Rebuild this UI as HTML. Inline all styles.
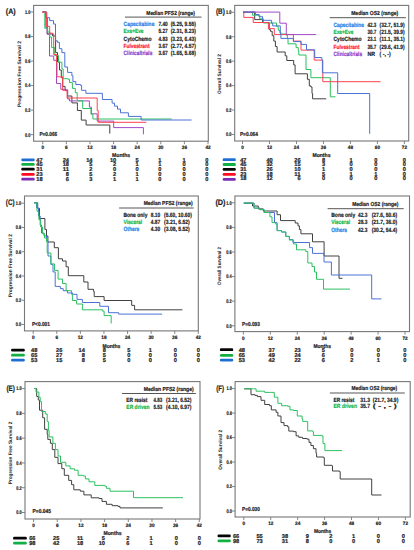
<!DOCTYPE html>
<html><head><meta charset="utf-8"><style>
html,body{margin:0;padding:0;background:#fff;width:414px;height:550px;overflow:hidden}
svg{display:block;font-family:"Liberation Sans",sans-serif;text-rendering:geometricPrecision}
</style></head><body>
<svg width="414" height="550" viewBox="0 0 414 550">
<rect width="414" height="550" fill="#fff"/>
<rect x="33.60" y="5.40" width="174.70" height="135.80" fill="none" stroke="#777777" stroke-width="1.1"/>
<line x1="30.60" y1="134.70" x2="33.60" y2="134.70" stroke="#777777" stroke-width="0.9"/>
<text x="30.30" y="136.50" font-size="5.2" font-weight="bold" fill="#1c1c1c" text-anchor="end" textLength="5.40" lengthAdjust="spacingAndGlyphs" stroke="#1c1c1c" stroke-width="0.2">0.0</text>
<line x1="30.60" y1="110.16" x2="33.60" y2="110.16" stroke="#777777" stroke-width="0.9"/>
<text x="30.30" y="111.96" font-size="5.2" font-weight="bold" fill="#1c1c1c" text-anchor="end" textLength="5.40" lengthAdjust="spacingAndGlyphs" stroke="#1c1c1c" stroke-width="0.2">0.2</text>
<line x1="30.60" y1="85.62" x2="33.60" y2="85.62" stroke="#777777" stroke-width="0.9"/>
<text x="30.30" y="87.42" font-size="5.2" font-weight="bold" fill="#1c1c1c" text-anchor="end" textLength="5.40" lengthAdjust="spacingAndGlyphs" stroke="#1c1c1c" stroke-width="0.2">0.4</text>
<line x1="30.60" y1="61.08" x2="33.60" y2="61.08" stroke="#777777" stroke-width="0.9"/>
<text x="30.30" y="62.88" font-size="5.2" font-weight="bold" fill="#1c1c1c" text-anchor="end" textLength="5.40" lengthAdjust="spacingAndGlyphs" stroke="#1c1c1c" stroke-width="0.2">0.6</text>
<line x1="30.60" y1="36.54" x2="33.60" y2="36.54" stroke="#777777" stroke-width="0.9"/>
<text x="30.30" y="38.34" font-size="5.2" font-weight="bold" fill="#1c1c1c" text-anchor="end" textLength="5.40" lengthAdjust="spacingAndGlyphs" stroke="#1c1c1c" stroke-width="0.2">0.8</text>
<line x1="30.60" y1="12.00" x2="33.60" y2="12.00" stroke="#777777" stroke-width="0.9"/>
<text x="30.30" y="13.80" font-size="5.2" font-weight="bold" fill="#1c1c1c" text-anchor="end" textLength="5.40" lengthAdjust="spacingAndGlyphs" stroke="#1c1c1c" stroke-width="0.2">1.0</text>
<line x1="42.75" y1="141.20" x2="42.75" y2="144.20" stroke="#777777" stroke-width="0.9"/>
<text x="42.75" y="149.20" font-size="5.0" font-weight="bold" fill="#1c1c1c" text-anchor="middle" textLength="2.60" lengthAdjust="spacingAndGlyphs" stroke="#1c1c1c" stroke-width="0.2">0</text>
<line x1="66.36" y1="141.20" x2="66.36" y2="144.20" stroke="#777777" stroke-width="0.9"/>
<text x="66.36" y="149.20" font-size="5.0" font-weight="bold" fill="#1c1c1c" text-anchor="middle" textLength="2.60" lengthAdjust="spacingAndGlyphs" stroke="#1c1c1c" stroke-width="0.2">6</text>
<line x1="89.96" y1="141.20" x2="89.96" y2="144.20" stroke="#777777" stroke-width="0.9"/>
<text x="89.96" y="149.20" font-size="5.0" font-weight="bold" fill="#1c1c1c" text-anchor="middle" textLength="5.20" lengthAdjust="spacingAndGlyphs" stroke="#1c1c1c" stroke-width="0.2">12</text>
<line x1="113.57" y1="141.20" x2="113.57" y2="144.20" stroke="#777777" stroke-width="0.9"/>
<text x="113.57" y="149.20" font-size="5.0" font-weight="bold" fill="#1c1c1c" text-anchor="middle" textLength="5.20" lengthAdjust="spacingAndGlyphs" stroke="#1c1c1c" stroke-width="0.2">18</text>
<line x1="137.18" y1="141.20" x2="137.18" y2="144.20" stroke="#777777" stroke-width="0.9"/>
<text x="137.18" y="149.20" font-size="5.0" font-weight="bold" fill="#1c1c1c" text-anchor="middle" textLength="5.20" lengthAdjust="spacingAndGlyphs" stroke="#1c1c1c" stroke-width="0.2">24</text>
<line x1="160.79" y1="141.20" x2="160.79" y2="144.20" stroke="#777777" stroke-width="0.9"/>
<text x="160.79" y="149.20" font-size="5.0" font-weight="bold" fill="#1c1c1c" text-anchor="middle" textLength="5.20" lengthAdjust="spacingAndGlyphs" stroke="#1c1c1c" stroke-width="0.2">30</text>
<line x1="184.39" y1="141.20" x2="184.39" y2="144.20" stroke="#777777" stroke-width="0.9"/>
<text x="184.39" y="149.20" font-size="5.0" font-weight="bold" fill="#1c1c1c" text-anchor="middle" textLength="5.20" lengthAdjust="spacingAndGlyphs" stroke="#1c1c1c" stroke-width="0.2">36</text>
<line x1="208.00" y1="141.20" x2="208.00" y2="144.20" stroke="#777777" stroke-width="0.9"/>
<text x="208.00" y="149.20" font-size="5.0" font-weight="bold" fill="#1c1c1c" text-anchor="middle" textLength="5.20" lengthAdjust="spacingAndGlyphs" stroke="#1c1c1c" stroke-width="0.2">42</text>
<text x="5.80" y="14.30" font-size="8.0" font-weight="bold" fill="#1c1c1c" text-anchor="start" textLength="9.90" lengthAdjust="spacingAndGlyphs" stroke="#1c1c1c" stroke-width="0.2">(A)</text>
<text x="0" y="0" font-size="5.0" font-weight="bold" fill="#1c1c1c" text-anchor="middle" textLength="66.00" lengthAdjust="spacingAndGlyphs" transform="translate(20.60,74.00) rotate(-90)">Progression Free Survival 2</text>
<text x="39.40" y="135.80" font-size="5.8" font-weight="bold" fill="#1c1c1c" text-anchor="start" textLength="17.80" lengthAdjust="spacingAndGlyphs" stroke="#1c1c1c" stroke-width="0.2">P=0.066</text>
<text x="146.30" y="14.90" font-size="5.8" font-weight="bold" fill="#1c1c1c" text-anchor="start" textLength="48.60" lengthAdjust="spacingAndGlyphs" stroke="#1c1c1c" stroke-width="0.2">Median PFS2 (range)</text>
<line x1="125.00" y1="17.10" x2="201.50" y2="17.10" stroke="#444" stroke-width="0.9"/>
<text x="123.60" y="26.10" font-size="6.2" font-weight="bold" fill="#1f7fe6" text-anchor="start" textLength="30.80" lengthAdjust="spacingAndGlyphs" stroke="#1f7fe6" stroke-width="0.2">Capecitabine</text>
<text x="158.40" y="26.10" font-size="6.2" font-weight="bold" fill="#1c1c1c" text-anchor="start" textLength="9.30" lengthAdjust="spacingAndGlyphs" stroke="#1c1c1c" stroke-width="0.2">7.40</text>
<text x="170.70" y="26.10" font-size="6.2" font-weight="bold" fill="#1c1c1c" text-anchor="start" textLength="25.10" lengthAdjust="spacingAndGlyphs" stroke="#1c1c1c" stroke-width="0.2">(5.25, 9.55)</text>
<text x="123.60" y="33.40" font-size="6.2" font-weight="bold" fill="#0fb848" text-anchor="start" textLength="19.90" lengthAdjust="spacingAndGlyphs" stroke="#0fb848" stroke-width="0.2">Exe+Eve</text>
<text x="158.40" y="33.40" font-size="6.2" font-weight="bold" fill="#1c1c1c" text-anchor="start" textLength="9.30" lengthAdjust="spacingAndGlyphs" stroke="#1c1c1c" stroke-width="0.2">5.27</text>
<text x="170.70" y="33.40" font-size="6.2" font-weight="bold" fill="#1c1c1c" text-anchor="start" textLength="25.10" lengthAdjust="spacingAndGlyphs" stroke="#1c1c1c" stroke-width="0.2">(2.31, 8.23)</text>
<text x="123.60" y="40.60" font-size="6.2" font-weight="bold" fill="#1c1c1c" text-anchor="start" textLength="28.00" lengthAdjust="spacingAndGlyphs" stroke="#1c1c1c" stroke-width="0.2">CytoChemo</text>
<text x="158.40" y="40.60" font-size="6.2" font-weight="bold" fill="#1c1c1c" text-anchor="start" textLength="9.30" lengthAdjust="spacingAndGlyphs" stroke="#1c1c1c" stroke-width="0.2">4.83</text>
<text x="170.70" y="40.60" font-size="6.2" font-weight="bold" fill="#1c1c1c" text-anchor="start" textLength="25.10" lengthAdjust="spacingAndGlyphs" stroke="#1c1c1c" stroke-width="0.2">(3.23, 6.43)</text>
<text x="123.60" y="47.90" font-size="6.2" font-weight="bold" fill="#ff1a2c" text-anchor="start" textLength="26.00" lengthAdjust="spacingAndGlyphs" stroke="#ff1a2c" stroke-width="0.2">Fulvestrant</text>
<text x="158.40" y="47.90" font-size="6.2" font-weight="bold" fill="#1c1c1c" text-anchor="start" textLength="9.30" lengthAdjust="spacingAndGlyphs" stroke="#1c1c1c" stroke-width="0.2">3.67</text>
<text x="170.70" y="47.90" font-size="6.2" font-weight="bold" fill="#1c1c1c" text-anchor="start" textLength="25.10" lengthAdjust="spacingAndGlyphs" stroke="#1c1c1c" stroke-width="0.2">(2.77, 4.57)</text>
<text x="123.60" y="55.10" font-size="6.2" font-weight="bold" fill="#8c3ccc" text-anchor="start" textLength="28.80" lengthAdjust="spacingAndGlyphs" stroke="#8c3ccc" stroke-width="0.2">Clinicaltrials</text>
<text x="158.40" y="55.10" font-size="6.2" font-weight="bold" fill="#1c1c1c" text-anchor="start" textLength="9.30" lengthAdjust="spacingAndGlyphs" stroke="#1c1c1c" stroke-width="0.2">3.67</text>
<text x="170.70" y="55.10" font-size="6.2" font-weight="bold" fill="#1c1c1c" text-anchor="start" textLength="25.10" lengthAdjust="spacingAndGlyphs" stroke="#1c1c1c" stroke-width="0.2">(1.65, 5.68)</text>
<polyline points="42.50,12.00 45.80,12.00 45.80,17.70 47.20,17.70 47.20,34.00 52.60,34.00 52.60,36.00 55.60,36.00 55.60,52.60 57.50,52.60 57.50,62.00 59.50,62.00 59.50,70.00 61.30,70.00 61.30,77.70 62.70,77.70 62.70,86.40 65.10,86.40 65.10,90.30 67.60,90.30 67.60,96.00 71.90,96.00 71.90,102.90 77.40,102.90 77.40,106.60 77.40,110.50 81.30,110.50 81.30,120.10 86.10,120.10 86.10,125.00 109.80,125.00 109.80,133.60" fill="none" stroke="#404040" stroke-width="1.0"/>
<polyline points="42.50,12.00 45.80,12.00 45.80,27.30 47.20,27.30 47.20,34.10 49.50,34.10 49.50,38.00 49.50,56.00 53.70,56.00 53.70,60.30 56.50,60.30 56.50,62.20 56.50,83.50 60.80,83.50 60.80,89.30 64.70,89.30 64.70,89.80 67.60,89.80 67.60,99.00 69.50,99.00 69.50,100.90 89.40,100.90 89.40,107.10 91.40,107.10 91.40,113.80 97.20,113.80 97.20,121.10 113.70,121.10 113.70,127.60 143.40,127.60 143.40,134.30" fill="none" stroke="#a04ac6" stroke-width="1.0"/>
<polyline points="42.50,12.00 44.80,12.00 44.80,28.30 47.70,28.30 47.70,32.00 49.70,32.00 49.70,37.00 51.60,37.00 51.60,47.60 54.70,47.60 54.70,55.50 58.50,55.50 58.50,62.20 61.90,62.20 61.90,69.00 63.20,69.00 63.20,78.70 68.00,78.70 68.00,79.20 69.50,79.20 69.50,82.60 72.40,82.60 72.40,88.40 75.30,88.40 75.30,92.70 77.20,92.70 77.20,100.80 82.70,100.80 82.70,108.50 91.00,108.50 91.00,114.30 92.90,114.30 92.90,119.00 171.80,119.00" fill="none" stroke="#2cc060" stroke-width="1.0"/>
<polyline points="42.50,12.00 46.80,12.00 46.80,17.70 49.70,17.70 49.70,20.60 53.50,20.60 53.50,24.00 55.50,24.00 55.50,40.80 57.40,40.80 57.40,42.30 59.40,42.30 59.40,48.70 61.90,48.70 61.90,52.60 64.80,52.60 64.80,67.00 67.60,67.00 67.60,72.40 71.90,72.40 71.90,75.80 72.90,75.80 72.90,81.60 75.80,81.60 75.80,84.50 80.60,84.50 80.60,85.50 81.60,85.50 81.60,90.30 85.90,90.30 85.90,93.30 102.40,93.30 102.40,99.50 112.10,99.50 112.10,103.10 114.50,103.10 114.50,106.10 117.50,106.10 117.50,109.10 120.50,109.10 120.50,112.80 128.40,112.80 128.40,116.40 141.10,116.40 141.10,120.00 191.60,120.00" fill="none" stroke="#4a72d6" stroke-width="1.0"/>
<polyline points="42.10,12.00 46.40,12.00 46.40,26.40 49.70,26.40 49.70,33.10 52.60,33.10 52.60,34.00 53.70,34.00 53.70,54.50 56.60,54.50 56.60,63.20 57.00,63.20 57.00,76.80 62.70,76.80 62.70,90.30 65.60,90.30 65.60,90.80 67.10,90.80 67.10,98.00 97.20,98.00 97.20,110.50 98.20,110.50 98.20,122.30 146.30,122.30" fill="none" stroke="#ff4050" stroke-width="1.0"/>
<rect x="21.30" y="158.40" width="13.40" height="2.8" rx="1.2" fill="#1f6fd2"/>
<rect x="21.30" y="162.90" width="13.40" height="2.8" rx="1.2" fill="#12b044"/>
<rect x="21.30" y="167.80" width="13.40" height="2.8" rx="1.2" fill="#050505"/>
<rect x="21.30" y="173.00" width="13.40" height="2.8" rx="1.2" fill="#ff0a1e"/>
<rect x="21.30" y="177.80" width="13.40" height="2.8" rx="1.2" fill="#7b2cb4"/>
<text x="42.60" y="161.50" font-size="5.6" font-weight="bold" fill="#1c1c1c" text-anchor="end" textLength="6.30" lengthAdjust="spacingAndGlyphs" stroke="#1c1c1c" stroke-width="0.2">47</text>
<text x="69.00" y="161.50" font-size="5.6" font-weight="bold" fill="#1c1c1c" text-anchor="end" textLength="6.30" lengthAdjust="spacingAndGlyphs" stroke="#1c1c1c" stroke-width="0.2">24</text>
<text x="92.50" y="161.50" font-size="5.6" font-weight="bold" fill="#1c1c1c" text-anchor="end" textLength="6.30" lengthAdjust="spacingAndGlyphs" stroke="#1c1c1c" stroke-width="0.2">14</text>
<text x="116.20" y="161.50" font-size="5.6" font-weight="bold" fill="#1c1c1c" text-anchor="end" textLength="6.30" lengthAdjust="spacingAndGlyphs" stroke="#1c1c1c" stroke-width="0.2">10</text>
<text x="138.60" y="161.50" font-size="5.6" font-weight="bold" fill="#1c1c1c" text-anchor="end" textLength="3.15" lengthAdjust="spacingAndGlyphs" stroke="#1c1c1c" stroke-width="0.2">5</text>
<text x="161.40" y="161.50" font-size="5.6" font-weight="bold" fill="#1c1c1c" text-anchor="end" textLength="3.15" lengthAdjust="spacingAndGlyphs" stroke="#1c1c1c" stroke-width="0.2">1</text>
<text x="185.70" y="161.50" font-size="5.6" font-weight="bold" fill="#1c1c1c" text-anchor="end" textLength="3.15" lengthAdjust="spacingAndGlyphs" stroke="#1c1c1c" stroke-width="0.2">1</text>
<text x="208.50" y="161.50" font-size="5.6" font-weight="bold" fill="#1c1c1c" text-anchor="end" textLength="3.15" lengthAdjust="spacingAndGlyphs" stroke="#1c1c1c" stroke-width="0.2">0</text>
<text x="42.60" y="166.20" font-size="5.6" font-weight="bold" fill="#1c1c1c" text-anchor="end" textLength="6.30" lengthAdjust="spacingAndGlyphs" stroke="#1c1c1c" stroke-width="0.2">45</text>
<text x="69.00" y="166.20" font-size="5.6" font-weight="bold" fill="#1c1c1c" text-anchor="end" textLength="6.30" lengthAdjust="spacingAndGlyphs" stroke="#1c1c1c" stroke-width="0.2">18</text>
<text x="92.50" y="166.20" font-size="5.6" font-weight="bold" fill="#1c1c1c" text-anchor="end" textLength="3.15" lengthAdjust="spacingAndGlyphs" stroke="#1c1c1c" stroke-width="0.2">5</text>
<text x="116.20" y="166.20" font-size="5.6" font-weight="bold" fill="#1c1c1c" text-anchor="end" textLength="3.15" lengthAdjust="spacingAndGlyphs" stroke="#1c1c1c" stroke-width="0.2">2</text>
<text x="138.60" y="166.20" font-size="5.6" font-weight="bold" fill="#1c1c1c" text-anchor="end" textLength="3.15" lengthAdjust="spacingAndGlyphs" stroke="#1c1c1c" stroke-width="0.2">1</text>
<text x="161.40" y="166.20" font-size="5.6" font-weight="bold" fill="#1c1c1c" text-anchor="end" textLength="3.15" lengthAdjust="spacingAndGlyphs" stroke="#1c1c1c" stroke-width="0.2">1</text>
<text x="185.70" y="166.20" font-size="5.6" font-weight="bold" fill="#1c1c1c" text-anchor="end" textLength="3.15" lengthAdjust="spacingAndGlyphs" stroke="#1c1c1c" stroke-width="0.2">0</text>
<text x="208.50" y="166.20" font-size="5.6" font-weight="bold" fill="#1c1c1c" text-anchor="end" textLength="3.15" lengthAdjust="spacingAndGlyphs" stroke="#1c1c1c" stroke-width="0.2">0</text>
<text x="42.60" y="171.00" font-size="5.6" font-weight="bold" fill="#1c1c1c" text-anchor="end" textLength="6.30" lengthAdjust="spacingAndGlyphs" stroke="#1c1c1c" stroke-width="0.2">31</text>
<text x="69.00" y="171.00" font-size="5.6" font-weight="bold" fill="#1c1c1c" text-anchor="end" textLength="6.30" lengthAdjust="spacingAndGlyphs" stroke="#1c1c1c" stroke-width="0.2">11</text>
<text x="92.50" y="171.00" font-size="5.6" font-weight="bold" fill="#1c1c1c" text-anchor="end" textLength="3.15" lengthAdjust="spacingAndGlyphs" stroke="#1c1c1c" stroke-width="0.2">2</text>
<text x="116.20" y="171.00" font-size="5.6" font-weight="bold" fill="#1c1c1c" text-anchor="end" textLength="3.15" lengthAdjust="spacingAndGlyphs" stroke="#1c1c1c" stroke-width="0.2">0</text>
<text x="138.60" y="171.00" font-size="5.6" font-weight="bold" fill="#1c1c1c" text-anchor="end" textLength="3.15" lengthAdjust="spacingAndGlyphs" stroke="#1c1c1c" stroke-width="0.2">0</text>
<text x="161.40" y="171.00" font-size="5.6" font-weight="bold" fill="#1c1c1c" text-anchor="end" textLength="3.15" lengthAdjust="spacingAndGlyphs" stroke="#1c1c1c" stroke-width="0.2">0</text>
<text x="185.70" y="171.00" font-size="5.6" font-weight="bold" fill="#1c1c1c" text-anchor="end" textLength="3.15" lengthAdjust="spacingAndGlyphs" stroke="#1c1c1c" stroke-width="0.2">0</text>
<text x="208.50" y="171.00" font-size="5.6" font-weight="bold" fill="#1c1c1c" text-anchor="end" textLength="3.15" lengthAdjust="spacingAndGlyphs" stroke="#1c1c1c" stroke-width="0.2">0</text>
<text x="42.60" y="176.30" font-size="5.6" font-weight="bold" fill="#1c1c1c" text-anchor="end" textLength="6.30" lengthAdjust="spacingAndGlyphs" stroke="#1c1c1c" stroke-width="0.2">23</text>
<text x="69.00" y="176.30" font-size="5.6" font-weight="bold" fill="#1c1c1c" text-anchor="end" textLength="3.15" lengthAdjust="spacingAndGlyphs" stroke="#1c1c1c" stroke-width="0.2">8</text>
<text x="92.50" y="176.30" font-size="5.6" font-weight="bold" fill="#1c1c1c" text-anchor="end" textLength="3.15" lengthAdjust="spacingAndGlyphs" stroke="#1c1c1c" stroke-width="0.2">5</text>
<text x="116.20" y="176.30" font-size="5.6" font-weight="bold" fill="#1c1c1c" text-anchor="end" textLength="3.15" lengthAdjust="spacingAndGlyphs" stroke="#1c1c1c" stroke-width="0.2">2</text>
<text x="138.60" y="176.30" font-size="5.6" font-weight="bold" fill="#1c1c1c" text-anchor="end" textLength="3.15" lengthAdjust="spacingAndGlyphs" stroke="#1c1c1c" stroke-width="0.2">1</text>
<text x="161.40" y="176.30" font-size="5.6" font-weight="bold" fill="#1c1c1c" text-anchor="end" textLength="3.15" lengthAdjust="spacingAndGlyphs" stroke="#1c1c1c" stroke-width="0.2">0</text>
<text x="185.70" y="176.30" font-size="5.6" font-weight="bold" fill="#1c1c1c" text-anchor="end" textLength="3.15" lengthAdjust="spacingAndGlyphs" stroke="#1c1c1c" stroke-width="0.2">0</text>
<text x="208.50" y="176.30" font-size="5.6" font-weight="bold" fill="#1c1c1c" text-anchor="end" textLength="3.15" lengthAdjust="spacingAndGlyphs" stroke="#1c1c1c" stroke-width="0.2">0</text>
<text x="42.60" y="180.70" font-size="5.6" font-weight="bold" fill="#1c1c1c" text-anchor="end" textLength="6.30" lengthAdjust="spacingAndGlyphs" stroke="#1c1c1c" stroke-width="0.2">18</text>
<text x="69.00" y="180.70" font-size="5.6" font-weight="bold" fill="#1c1c1c" text-anchor="end" textLength="3.15" lengthAdjust="spacingAndGlyphs" stroke="#1c1c1c" stroke-width="0.2">6</text>
<text x="92.50" y="180.70" font-size="5.6" font-weight="bold" fill="#1c1c1c" text-anchor="end" textLength="3.15" lengthAdjust="spacingAndGlyphs" stroke="#1c1c1c" stroke-width="0.2">3</text>
<text x="116.20" y="180.70" font-size="5.6" font-weight="bold" fill="#1c1c1c" text-anchor="end" textLength="3.15" lengthAdjust="spacingAndGlyphs" stroke="#1c1c1c" stroke-width="0.2">1</text>
<text x="138.60" y="180.70" font-size="5.6" font-weight="bold" fill="#1c1c1c" text-anchor="end" textLength="3.15" lengthAdjust="spacingAndGlyphs" stroke="#1c1c1c" stroke-width="0.2">1</text>
<text x="161.40" y="180.70" font-size="5.6" font-weight="bold" fill="#1c1c1c" text-anchor="end" textLength="3.15" lengthAdjust="spacingAndGlyphs" stroke="#1c1c1c" stroke-width="0.2">0</text>
<text x="185.70" y="180.70" font-size="5.6" font-weight="bold" fill="#1c1c1c" text-anchor="end" textLength="3.15" lengthAdjust="spacingAndGlyphs" stroke="#1c1c1c" stroke-width="0.2">0</text>
<text x="208.50" y="180.70" font-size="5.6" font-weight="bold" fill="#1c1c1c" text-anchor="end" textLength="3.15" lengthAdjust="spacingAndGlyphs" stroke="#1c1c1c" stroke-width="0.2">0</text>
<text x="112.10" y="157.20" font-size="5.6" font-weight="bold" fill="#1c1c1c" text-anchor="start" textLength="18.10" lengthAdjust="spacingAndGlyphs" stroke="#1c1c1c" stroke-width="0.2">Months</text>
<rect x="234.70" y="5.40" width="174.00" height="135.60" fill="none" stroke="#777777" stroke-width="1.1"/>
<line x1="231.70" y1="134.50" x2="234.70" y2="134.50" stroke="#777777" stroke-width="0.9"/>
<text x="231.40" y="136.30" font-size="5.2" font-weight="bold" fill="#1c1c1c" text-anchor="end" textLength="5.40" lengthAdjust="spacingAndGlyphs" stroke="#1c1c1c" stroke-width="0.2">0.0</text>
<line x1="231.70" y1="110.06" x2="234.70" y2="110.06" stroke="#777777" stroke-width="0.9"/>
<text x="231.40" y="111.86" font-size="5.2" font-weight="bold" fill="#1c1c1c" text-anchor="end" textLength="5.40" lengthAdjust="spacingAndGlyphs" stroke="#1c1c1c" stroke-width="0.2">0.2</text>
<line x1="231.70" y1="85.62" x2="234.70" y2="85.62" stroke="#777777" stroke-width="0.9"/>
<text x="231.40" y="87.42" font-size="5.2" font-weight="bold" fill="#1c1c1c" text-anchor="end" textLength="5.40" lengthAdjust="spacingAndGlyphs" stroke="#1c1c1c" stroke-width="0.2">0.4</text>
<line x1="231.70" y1="61.18" x2="234.70" y2="61.18" stroke="#777777" stroke-width="0.9"/>
<text x="231.40" y="62.98" font-size="5.2" font-weight="bold" fill="#1c1c1c" text-anchor="end" textLength="5.40" lengthAdjust="spacingAndGlyphs" stroke="#1c1c1c" stroke-width="0.2">0.6</text>
<line x1="231.70" y1="36.74" x2="234.70" y2="36.74" stroke="#777777" stroke-width="0.9"/>
<text x="231.40" y="38.54" font-size="5.2" font-weight="bold" fill="#1c1c1c" text-anchor="end" textLength="5.40" lengthAdjust="spacingAndGlyphs" stroke="#1c1c1c" stroke-width="0.2">0.8</text>
<line x1="231.70" y1="12.30" x2="234.70" y2="12.30" stroke="#777777" stroke-width="0.9"/>
<text x="231.40" y="14.10" font-size="5.2" font-weight="bold" fill="#1c1c1c" text-anchor="end" textLength="5.40" lengthAdjust="spacingAndGlyphs" stroke="#1c1c1c" stroke-width="0.2">1.0</text>
<line x1="242.50" y1="141.00" x2="242.50" y2="144.00" stroke="#777777" stroke-width="0.9"/>
<text x="242.50" y="149.00" font-size="5.0" font-weight="bold" fill="#1c1c1c" text-anchor="middle" textLength="2.60" lengthAdjust="spacingAndGlyphs" stroke="#1c1c1c" stroke-width="0.2">0</text>
<line x1="269.48" y1="141.00" x2="269.48" y2="144.00" stroke="#777777" stroke-width="0.9"/>
<text x="269.48" y="149.00" font-size="5.0" font-weight="bold" fill="#1c1c1c" text-anchor="middle" textLength="5.20" lengthAdjust="spacingAndGlyphs" stroke="#1c1c1c" stroke-width="0.2">12</text>
<line x1="296.47" y1="141.00" x2="296.47" y2="144.00" stroke="#777777" stroke-width="0.9"/>
<text x="296.47" y="149.00" font-size="5.0" font-weight="bold" fill="#1c1c1c" text-anchor="middle" textLength="5.20" lengthAdjust="spacingAndGlyphs" stroke="#1c1c1c" stroke-width="0.2">24</text>
<line x1="323.45" y1="141.00" x2="323.45" y2="144.00" stroke="#777777" stroke-width="0.9"/>
<text x="323.45" y="149.00" font-size="5.0" font-weight="bold" fill="#1c1c1c" text-anchor="middle" textLength="5.20" lengthAdjust="spacingAndGlyphs" stroke="#1c1c1c" stroke-width="0.2">36</text>
<line x1="350.43" y1="141.00" x2="350.43" y2="144.00" stroke="#777777" stroke-width="0.9"/>
<text x="350.43" y="149.00" font-size="5.0" font-weight="bold" fill="#1c1c1c" text-anchor="middle" textLength="5.20" lengthAdjust="spacingAndGlyphs" stroke="#1c1c1c" stroke-width="0.2">48</text>
<line x1="377.42" y1="141.00" x2="377.42" y2="144.00" stroke="#777777" stroke-width="0.9"/>
<text x="377.42" y="149.00" font-size="5.0" font-weight="bold" fill="#1c1c1c" text-anchor="middle" textLength="5.20" lengthAdjust="spacingAndGlyphs" stroke="#1c1c1c" stroke-width="0.2">60</text>
<line x1="404.40" y1="141.00" x2="404.40" y2="144.00" stroke="#777777" stroke-width="0.9"/>
<text x="404.40" y="149.00" font-size="5.0" font-weight="bold" fill="#1c1c1c" text-anchor="middle" textLength="5.20" lengthAdjust="spacingAndGlyphs" stroke="#1c1c1c" stroke-width="0.2">72</text>
<text x="216.00" y="14.20" font-size="8.0" font-weight="bold" fill="#1c1c1c" text-anchor="start" textLength="8.80" lengthAdjust="spacingAndGlyphs" stroke="#1c1c1c" stroke-width="0.2">(B)</text>
<text x="0" y="0" font-size="5.0" font-weight="bold" fill="#1c1c1c" text-anchor="middle" textLength="40.00" lengthAdjust="spacingAndGlyphs" transform="translate(220.60,74.00) rotate(-90)">Overall Survival 2</text>
<text x="239.90" y="136.00" font-size="5.8" font-weight="bold" fill="#1c1c1c" text-anchor="start" textLength="18.10" lengthAdjust="spacingAndGlyphs" stroke="#1c1c1c" stroke-width="0.2">P=0.064</text>
<text x="351.20" y="15.30" font-size="5.8" font-weight="bold" fill="#1c1c1c" text-anchor="start" textLength="47.00" lengthAdjust="spacingAndGlyphs" stroke="#1c1c1c" stroke-width="0.2">Median OS2 (range)</text>
<line x1="329.70" y1="17.70" x2="405.90" y2="17.70" stroke="#444" stroke-width="0.9"/>
<text x="333.50" y="26.80" font-size="6.2" font-weight="bold" fill="#1f7fe6" text-anchor="start" textLength="30.60" lengthAdjust="spacingAndGlyphs" stroke="#1f7fe6" stroke-width="0.2">Capecitabine</text>
<text x="367.50" y="26.80" font-size="6.2" font-weight="bold" fill="#1c1c1c" text-anchor="start" textLength="8.80" lengthAdjust="spacingAndGlyphs" stroke="#1c1c1c" stroke-width="0.2">42.3</text>
<text x="379.60" y="26.80" font-size="6.2" font-weight="bold" fill="#1c1c1c" text-anchor="start" textLength="25.10" lengthAdjust="spacingAndGlyphs" stroke="#1c1c1c" stroke-width="0.2">(32.7, 51.9)</text>
<text x="333.50" y="34.10" font-size="6.2" font-weight="bold" fill="#0fb848" text-anchor="start" textLength="19.80" lengthAdjust="spacingAndGlyphs" stroke="#0fb848" stroke-width="0.2">Exe+Eve</text>
<text x="367.50" y="34.10" font-size="6.2" font-weight="bold" fill="#1c1c1c" text-anchor="start" textLength="8.80" lengthAdjust="spacingAndGlyphs" stroke="#1c1c1c" stroke-width="0.2">30.7</text>
<text x="379.60" y="34.10" font-size="6.2" font-weight="bold" fill="#1c1c1c" text-anchor="start" textLength="25.10" lengthAdjust="spacingAndGlyphs" stroke="#1c1c1c" stroke-width="0.2">(21.5, 39.9)</text>
<text x="333.50" y="41.40" font-size="6.2" font-weight="bold" fill="#1c1c1c" text-anchor="start" textLength="28.00" lengthAdjust="spacingAndGlyphs" stroke="#1c1c1c" stroke-width="0.2">CytoChemo</text>
<text x="367.50" y="41.40" font-size="6.2" font-weight="bold" fill="#1c1c1c" text-anchor="start" textLength="8.80" lengthAdjust="spacingAndGlyphs" stroke="#1c1c1c" stroke-width="0.2">23.1</text>
<text x="379.60" y="41.40" font-size="6.2" font-weight="bold" fill="#1c1c1c" text-anchor="start" textLength="25.10" lengthAdjust="spacingAndGlyphs" stroke="#1c1c1c" stroke-width="0.2">(11.1, 35.1)</text>
<text x="333.50" y="48.60" font-size="6.2" font-weight="bold" fill="#ff1a2c" text-anchor="start" textLength="26.00" lengthAdjust="spacingAndGlyphs" stroke="#ff1a2c" stroke-width="0.2">Fulvestrant</text>
<text x="367.50" y="48.60" font-size="6.2" font-weight="bold" fill="#1c1c1c" text-anchor="start" textLength="8.80" lengthAdjust="spacingAndGlyphs" stroke="#1c1c1c" stroke-width="0.2">35.7</text>
<text x="379.60" y="48.60" font-size="6.2" font-weight="bold" fill="#1c1c1c" text-anchor="start" textLength="25.10" lengthAdjust="spacingAndGlyphs" stroke="#1c1c1c" stroke-width="0.2">(29.6, 41.9)</text>
<text x="333.50" y="55.80" font-size="6.2" font-weight="bold" fill="#8c3ccc" text-anchor="start" textLength="28.60" lengthAdjust="spacingAndGlyphs" stroke="#8c3ccc" stroke-width="0.2">Clinicaltrials</text>
<text x="367.50" y="55.80" font-size="6.2" font-weight="bold" fill="#1c1c1c" text-anchor="start" textLength="7.60" lengthAdjust="spacingAndGlyphs" stroke="#1c1c1c" stroke-width="0.2">NR</text>
<text x="379.60" y="55.80" font-size="6.2" font-weight="bold" fill="#1c1c1c" text-anchor="start" textLength="11.20" lengthAdjust="spacingAndGlyphs" stroke="#1c1c1c" stroke-width="0.2">( -, -)</text>
<polyline points="243.00,12.10 254.70,12.10 254.70,19.60 262.60,19.60 262.60,22.50 269.20,22.50 269.20,29.70 270.50,29.70 270.50,31.30 272.20,31.30 272.20,35.70 273.80,35.70 273.80,41.10 275.40,41.10 275.40,46.50 277.10,46.50 277.10,52.00 285.20,52.00 285.20,55.80 286.80,55.80 286.80,60.50 293.70,60.50 293.70,64.90 295.10,64.90 295.10,73.80 307.40,73.80 307.40,79.30 309.30,79.30 309.30,85.90 310.90,85.90 310.90,87.00 312.00,87.00 312.00,93.50 312.60,93.50 312.60,98.80 326.20,98.80" fill="none" stroke="#404040" stroke-width="1.0"/>
<polyline points="243.00,12.20 248.10,12.20 248.10,12.50 252.50,12.50 252.50,15.20 259.70,15.20 259.70,18.90 263.40,18.90 263.40,23.00 276.50,23.00 276.50,26.40 278.20,26.40 278.20,30.20 279.80,30.20 279.80,32.40 280.90,32.40 280.90,34.00 286.30,34.00 286.30,35.10 287.40,35.10 287.40,38.40 288.00,38.40 288.00,43.80 296.10,43.80 296.10,47.60 298.30,47.60 298.30,50.90 298.80,50.90 298.80,55.00 306.00,55.00 306.00,69.50 310.90,69.50 310.90,77.70 330.30,77.70 330.30,96.80 335.50,96.80" fill="none" stroke="#2cc060" stroke-width="1.0"/>
<polyline points="243.00,12.10 243.80,12.10 243.80,17.40 253.20,17.40 253.20,22.50 268.40,22.50 268.40,28.60 274.30,28.60 274.30,34.60 293.40,34.60 293.40,41.10 301.00,41.10 301.00,50.10 314.20,50.10 314.20,60.10 322.80,60.10 322.80,81.70 380.60,81.70" fill="none" stroke="#ff4050" stroke-width="1.0"/>
<polyline points="243.00,12.10 255.40,12.10 255.40,14.50 259.00,14.50 259.00,16.70 262.60,16.70 262.60,20.30 271.60,20.30 271.60,23.20 272.70,23.20 272.70,25.90 280.30,25.90 280.30,34.60 280.90,34.60 280.90,38.40 293.40,38.40 293.40,41.60 301.00,41.60 301.00,44.40 306.50,44.40 306.50,49.80 314.70,49.80 314.70,57.50 321.80,57.50 321.80,59.70 322.40,59.70 322.40,72.80 337.70,72.80 337.70,93.50 369.70,93.50 369.70,133.80" fill="none" stroke="#4a72d6" stroke-width="1.0"/>
<polyline points="243.10,12.10 279.80,12.10 279.80,23.20 286.30,23.20 286.30,34.60 316.20,34.60" fill="none" stroke="#a04ac6" stroke-width="1.0"/>
<rect x="222.70" y="158.30" width="13.10" height="2.8" rx="1.2" fill="#1f6fd2"/>
<rect x="222.70" y="163.10" width="13.10" height="2.8" rx="1.2" fill="#12b044"/>
<rect x="222.70" y="167.90" width="13.10" height="2.8" rx="1.2" fill="#050505"/>
<rect x="222.70" y="173.00" width="13.10" height="2.8" rx="1.2" fill="#ff0a1e"/>
<rect x="222.70" y="178.00" width="13.10" height="2.8" rx="1.2" fill="#7b2cb4"/>
<text x="246.50" y="161.80" font-size="5.6" font-weight="bold" fill="#1c1c1c" text-anchor="end" textLength="6.30" lengthAdjust="spacingAndGlyphs" stroke="#1c1c1c" stroke-width="0.2">47</text>
<text x="272.70" y="161.80" font-size="5.6" font-weight="bold" fill="#1c1c1c" text-anchor="end" textLength="6.30" lengthAdjust="spacingAndGlyphs" stroke="#1c1c1c" stroke-width="0.2">40</text>
<text x="300.60" y="161.80" font-size="5.6" font-weight="bold" fill="#1c1c1c" text-anchor="end" textLength="6.30" lengthAdjust="spacingAndGlyphs" stroke="#1c1c1c" stroke-width="0.2">26</text>
<text x="325.10" y="161.80" font-size="5.6" font-weight="bold" fill="#1c1c1c" text-anchor="end" textLength="3.15" lengthAdjust="spacingAndGlyphs" stroke="#1c1c1c" stroke-width="0.2">8</text>
<text x="352.70" y="161.80" font-size="5.6" font-weight="bold" fill="#1c1c1c" text-anchor="end" textLength="3.15" lengthAdjust="spacingAndGlyphs" stroke="#1c1c1c" stroke-width="0.2">1</text>
<text x="377.50" y="161.80" font-size="5.6" font-weight="bold" fill="#1c1c1c" text-anchor="end" textLength="3.15" lengthAdjust="spacingAndGlyphs" stroke="#1c1c1c" stroke-width="0.2">0</text>
<text x="405.90" y="161.80" font-size="5.6" font-weight="bold" fill="#1c1c1c" text-anchor="end" textLength="3.15" lengthAdjust="spacingAndGlyphs" stroke="#1c1c1c" stroke-width="0.2">0</text>
<text x="246.50" y="166.40" font-size="5.6" font-weight="bold" fill="#1c1c1c" text-anchor="end" textLength="6.30" lengthAdjust="spacingAndGlyphs" stroke="#1c1c1c" stroke-width="0.2">45</text>
<text x="272.70" y="166.40" font-size="5.6" font-weight="bold" fill="#1c1c1c" text-anchor="end" textLength="6.30" lengthAdjust="spacingAndGlyphs" stroke="#1c1c1c" stroke-width="0.2">32</text>
<text x="300.60" y="166.40" font-size="5.6" font-weight="bold" fill="#1c1c1c" text-anchor="end" textLength="6.30" lengthAdjust="spacingAndGlyphs" stroke="#1c1c1c" stroke-width="0.2">15</text>
<text x="325.10" y="166.40" font-size="5.6" font-weight="bold" fill="#1c1c1c" text-anchor="end" textLength="3.15" lengthAdjust="spacingAndGlyphs" stroke="#1c1c1c" stroke-width="0.2">3</text>
<text x="352.70" y="166.40" font-size="5.6" font-weight="bold" fill="#1c1c1c" text-anchor="end" textLength="3.15" lengthAdjust="spacingAndGlyphs" stroke="#1c1c1c" stroke-width="0.2">0</text>
<text x="377.50" y="166.40" font-size="5.6" font-weight="bold" fill="#1c1c1c" text-anchor="end" textLength="3.15" lengthAdjust="spacingAndGlyphs" stroke="#1c1c1c" stroke-width="0.2">0</text>
<text x="405.90" y="166.40" font-size="5.6" font-weight="bold" fill="#1c1c1c" text-anchor="end" textLength="3.15" lengthAdjust="spacingAndGlyphs" stroke="#1c1c1c" stroke-width="0.2">0</text>
<text x="246.50" y="171.20" font-size="5.6" font-weight="bold" fill="#1c1c1c" text-anchor="end" textLength="6.30" lengthAdjust="spacingAndGlyphs" stroke="#1c1c1c" stroke-width="0.2">31</text>
<text x="272.70" y="171.20" font-size="5.6" font-weight="bold" fill="#1c1c1c" text-anchor="end" textLength="6.30" lengthAdjust="spacingAndGlyphs" stroke="#1c1c1c" stroke-width="0.2">26</text>
<text x="300.60" y="171.20" font-size="5.6" font-weight="bold" fill="#1c1c1c" text-anchor="end" textLength="6.30" lengthAdjust="spacingAndGlyphs" stroke="#1c1c1c" stroke-width="0.2">10</text>
<text x="325.10" y="171.20" font-size="5.6" font-weight="bold" fill="#1c1c1c" text-anchor="end" textLength="3.15" lengthAdjust="spacingAndGlyphs" stroke="#1c1c1c" stroke-width="0.2">1</text>
<text x="352.70" y="171.20" font-size="5.6" font-weight="bold" fill="#1c1c1c" text-anchor="end" textLength="3.15" lengthAdjust="spacingAndGlyphs" stroke="#1c1c1c" stroke-width="0.2">0</text>
<text x="377.50" y="171.20" font-size="5.6" font-weight="bold" fill="#1c1c1c" text-anchor="end" textLength="3.15" lengthAdjust="spacingAndGlyphs" stroke="#1c1c1c" stroke-width="0.2">0</text>
<text x="405.90" y="171.20" font-size="5.6" font-weight="bold" fill="#1c1c1c" text-anchor="end" textLength="3.15" lengthAdjust="spacingAndGlyphs" stroke="#1c1c1c" stroke-width="0.2">0</text>
<text x="246.50" y="176.10" font-size="5.6" font-weight="bold" fill="#1c1c1c" text-anchor="end" textLength="6.30" lengthAdjust="spacingAndGlyphs" stroke="#1c1c1c" stroke-width="0.2">23</text>
<text x="272.70" y="176.10" font-size="5.6" font-weight="bold" fill="#1c1c1c" text-anchor="end" textLength="6.30" lengthAdjust="spacingAndGlyphs" stroke="#1c1c1c" stroke-width="0.2">18</text>
<text x="300.60" y="176.10" font-size="5.6" font-weight="bold" fill="#1c1c1c" text-anchor="end" textLength="6.30" lengthAdjust="spacingAndGlyphs" stroke="#1c1c1c" stroke-width="0.2">11</text>
<text x="325.10" y="176.10" font-size="5.6" font-weight="bold" fill="#1c1c1c" text-anchor="end" textLength="3.15" lengthAdjust="spacingAndGlyphs" stroke="#1c1c1c" stroke-width="0.2">5</text>
<text x="352.70" y="176.10" font-size="5.6" font-weight="bold" fill="#1c1c1c" text-anchor="end" textLength="3.15" lengthAdjust="spacingAndGlyphs" stroke="#1c1c1c" stroke-width="0.2">1</text>
<text x="377.50" y="176.10" font-size="5.6" font-weight="bold" fill="#1c1c1c" text-anchor="end" textLength="3.15" lengthAdjust="spacingAndGlyphs" stroke="#1c1c1c" stroke-width="0.2">1</text>
<text x="405.90" y="176.10" font-size="5.6" font-weight="bold" fill="#1c1c1c" text-anchor="end" textLength="3.15" lengthAdjust="spacingAndGlyphs" stroke="#1c1c1c" stroke-width="0.2">0</text>
<text x="246.50" y="180.40" font-size="5.6" font-weight="bold" fill="#1c1c1c" text-anchor="end" textLength="6.30" lengthAdjust="spacingAndGlyphs" stroke="#1c1c1c" stroke-width="0.2">18</text>
<text x="272.70" y="180.40" font-size="5.6" font-weight="bold" fill="#1c1c1c" text-anchor="end" textLength="6.30" lengthAdjust="spacingAndGlyphs" stroke="#1c1c1c" stroke-width="0.2">12</text>
<text x="300.60" y="180.40" font-size="5.6" font-weight="bold" fill="#1c1c1c" text-anchor="end" textLength="3.15" lengthAdjust="spacingAndGlyphs" stroke="#1c1c1c" stroke-width="0.2">6</text>
<text x="325.10" y="180.40" font-size="5.6" font-weight="bold" fill="#1c1c1c" text-anchor="end" textLength="3.15" lengthAdjust="spacingAndGlyphs" stroke="#1c1c1c" stroke-width="0.2">0</text>
<text x="352.70" y="180.40" font-size="5.6" font-weight="bold" fill="#1c1c1c" text-anchor="end" textLength="3.15" lengthAdjust="spacingAndGlyphs" stroke="#1c1c1c" stroke-width="0.2">0</text>
<text x="377.50" y="180.40" font-size="5.6" font-weight="bold" fill="#1c1c1c" text-anchor="end" textLength="3.15" lengthAdjust="spacingAndGlyphs" stroke="#1c1c1c" stroke-width="0.2">0</text>
<text x="405.90" y="180.40" font-size="5.6" font-weight="bold" fill="#1c1c1c" text-anchor="end" textLength="3.15" lengthAdjust="spacingAndGlyphs" stroke="#1c1c1c" stroke-width="0.2">0</text>
<text x="312.40" y="157.30" font-size="5.6" font-weight="bold" fill="#1c1c1c" text-anchor="start" textLength="18.10" lengthAdjust="spacingAndGlyphs" stroke="#1c1c1c" stroke-width="0.2">Months</text>
<rect x="24.50" y="196.00" width="173.80" height="134.90" fill="none" stroke="#777777" stroke-width="1.1"/>
<line x1="21.50" y1="324.50" x2="24.50" y2="324.50" stroke="#777777" stroke-width="0.9"/>
<text x="21.20" y="326.30" font-size="5.2" font-weight="bold" fill="#1c1c1c" text-anchor="end" textLength="5.40" lengthAdjust="spacingAndGlyphs" stroke="#1c1c1c" stroke-width="0.2">0.0</text>
<line x1="21.50" y1="300.24" x2="24.50" y2="300.24" stroke="#777777" stroke-width="0.9"/>
<text x="21.20" y="302.04" font-size="5.2" font-weight="bold" fill="#1c1c1c" text-anchor="end" textLength="5.40" lengthAdjust="spacingAndGlyphs" stroke="#1c1c1c" stroke-width="0.2">0.2</text>
<line x1="21.50" y1="275.98" x2="24.50" y2="275.98" stroke="#777777" stroke-width="0.9"/>
<text x="21.20" y="277.78" font-size="5.2" font-weight="bold" fill="#1c1c1c" text-anchor="end" textLength="5.40" lengthAdjust="spacingAndGlyphs" stroke="#1c1c1c" stroke-width="0.2">0.4</text>
<line x1="21.50" y1="251.72" x2="24.50" y2="251.72" stroke="#777777" stroke-width="0.9"/>
<text x="21.20" y="253.52" font-size="5.2" font-weight="bold" fill="#1c1c1c" text-anchor="end" textLength="5.40" lengthAdjust="spacingAndGlyphs" stroke="#1c1c1c" stroke-width="0.2">0.6</text>
<line x1="21.50" y1="227.46" x2="24.50" y2="227.46" stroke="#777777" stroke-width="0.9"/>
<text x="21.20" y="229.26" font-size="5.2" font-weight="bold" fill="#1c1c1c" text-anchor="end" textLength="5.40" lengthAdjust="spacingAndGlyphs" stroke="#1c1c1c" stroke-width="0.2">0.8</text>
<line x1="21.50" y1="203.20" x2="24.50" y2="203.20" stroke="#777777" stroke-width="0.9"/>
<text x="21.20" y="205.00" font-size="5.2" font-weight="bold" fill="#1c1c1c" text-anchor="end" textLength="5.40" lengthAdjust="spacingAndGlyphs" stroke="#1c1c1c" stroke-width="0.2">1.0</text>
<line x1="33.20" y1="330.90" x2="33.20" y2="333.90" stroke="#777777" stroke-width="0.9"/>
<text x="33.20" y="338.90" font-size="5.0" font-weight="bold" fill="#1c1c1c" text-anchor="middle" textLength="2.60" lengthAdjust="spacingAndGlyphs" stroke="#1c1c1c" stroke-width="0.2">0</text>
<line x1="56.79" y1="330.90" x2="56.79" y2="333.90" stroke="#777777" stroke-width="0.9"/>
<text x="56.79" y="338.90" font-size="5.0" font-weight="bold" fill="#1c1c1c" text-anchor="middle" textLength="2.60" lengthAdjust="spacingAndGlyphs" stroke="#1c1c1c" stroke-width="0.2">6</text>
<line x1="80.37" y1="330.90" x2="80.37" y2="333.90" stroke="#777777" stroke-width="0.9"/>
<text x="80.37" y="338.90" font-size="5.0" font-weight="bold" fill="#1c1c1c" text-anchor="middle" textLength="5.20" lengthAdjust="spacingAndGlyphs" stroke="#1c1c1c" stroke-width="0.2">12</text>
<line x1="103.96" y1="330.90" x2="103.96" y2="333.90" stroke="#777777" stroke-width="0.9"/>
<text x="103.96" y="338.90" font-size="5.0" font-weight="bold" fill="#1c1c1c" text-anchor="middle" textLength="5.20" lengthAdjust="spacingAndGlyphs" stroke="#1c1c1c" stroke-width="0.2">18</text>
<line x1="127.54" y1="330.90" x2="127.54" y2="333.90" stroke="#777777" stroke-width="0.9"/>
<text x="127.54" y="338.90" font-size="5.0" font-weight="bold" fill="#1c1c1c" text-anchor="middle" textLength="5.20" lengthAdjust="spacingAndGlyphs" stroke="#1c1c1c" stroke-width="0.2">24</text>
<line x1="151.13" y1="330.90" x2="151.13" y2="333.90" stroke="#777777" stroke-width="0.9"/>
<text x="151.13" y="338.90" font-size="5.0" font-weight="bold" fill="#1c1c1c" text-anchor="middle" textLength="5.20" lengthAdjust="spacingAndGlyphs" stroke="#1c1c1c" stroke-width="0.2">30</text>
<line x1="174.71" y1="330.90" x2="174.71" y2="333.90" stroke="#777777" stroke-width="0.9"/>
<text x="174.71" y="338.90" font-size="5.0" font-weight="bold" fill="#1c1c1c" text-anchor="middle" textLength="5.20" lengthAdjust="spacingAndGlyphs" stroke="#1c1c1c" stroke-width="0.2">36</text>
<line x1="198.30" y1="330.90" x2="198.30" y2="333.90" stroke="#777777" stroke-width="0.9"/>
<text x="198.30" y="338.90" font-size="5.0" font-weight="bold" fill="#1c1c1c" text-anchor="middle" textLength="5.20" lengthAdjust="spacingAndGlyphs" stroke="#1c1c1c" stroke-width="0.2">42</text>
<text x="5.80" y="205.40" font-size="8.0" font-weight="bold" fill="#1c1c1c" text-anchor="start" textLength="8.70" lengthAdjust="spacingAndGlyphs" stroke="#1c1c1c" stroke-width="0.2">(C)</text>
<text x="0" y="0" font-size="5.0" font-weight="bold" fill="#1c1c1c" text-anchor="middle" textLength="63.00" lengthAdjust="spacingAndGlyphs" transform="translate(11.80,265.70) rotate(-90)">Progression Free Survival 2</text>
<text x="31.90" y="326.00" font-size="5.8" font-weight="bold" fill="#1c1c1c" text-anchor="start" textLength="18.00" lengthAdjust="spacingAndGlyphs" stroke="#1c1c1c" stroke-width="0.2">P&lt;0.001</text>
<text x="143.70" y="205.20" font-size="5.8" font-weight="bold" fill="#1c1c1c" text-anchor="start" textLength="48.90" lengthAdjust="spacingAndGlyphs" stroke="#1c1c1c" stroke-width="0.2">Median PFS2 (range)</text>
<line x1="119.10" y1="208.00" x2="193.70" y2="208.00" stroke="#444" stroke-width="0.9"/>
<text x="123.50" y="216.70" font-size="6.2" font-weight="bold" fill="#1c1c1c" text-anchor="start" textLength="23.90" lengthAdjust="spacingAndGlyphs" stroke="#1c1c1c" stroke-width="0.2">Bone only</text>
<text x="150.80" y="216.70" font-size="6.2" font-weight="bold" fill="#1c1c1c" text-anchor="start" textLength="9.40" lengthAdjust="spacingAndGlyphs" stroke="#1c1c1c" stroke-width="0.2">8.10</text>
<text x="164.10" y="216.70" font-size="6.2" font-weight="bold" fill="#1c1c1c" text-anchor="start" textLength="27.84" lengthAdjust="spacingAndGlyphs" stroke="#1c1c1c" stroke-width="0.2">(5.60, 10.60)</text>
<text x="123.50" y="223.90" font-size="6.2" font-weight="bold" fill="#0fb848" text-anchor="start" textLength="18.70" lengthAdjust="spacingAndGlyphs" stroke="#0fb848" stroke-width="0.2">Visceral</text>
<text x="150.80" y="223.90" font-size="6.2" font-weight="bold" fill="#1c1c1c" text-anchor="start" textLength="9.40" lengthAdjust="spacingAndGlyphs" stroke="#1c1c1c" stroke-width="0.2">4.87</text>
<text x="164.10" y="223.90" font-size="6.2" font-weight="bold" fill="#1c1c1c" text-anchor="start" textLength="25.70" lengthAdjust="spacingAndGlyphs" stroke="#1c1c1c" stroke-width="0.2">(3.21, 6.52)</text>
<text x="123.50" y="230.90" font-size="6.2" font-weight="bold" fill="#1f7fe6" text-anchor="start" textLength="15.80" lengthAdjust="spacingAndGlyphs" stroke="#1f7fe6" stroke-width="0.2">Others</text>
<text x="150.80" y="230.90" font-size="6.2" font-weight="bold" fill="#1c1c1c" text-anchor="start" textLength="9.40" lengthAdjust="spacingAndGlyphs" stroke="#1c1c1c" stroke-width="0.2">4.30</text>
<text x="164.10" y="230.90" font-size="6.2" font-weight="bold" fill="#1c1c1c" text-anchor="start" textLength="25.70" lengthAdjust="spacingAndGlyphs" stroke="#1c1c1c" stroke-width="0.2">(3.08, 5.52)</text>
<polyline points="34.00,202.80 37.70,202.80 37.70,208.30 39.50,208.30 39.50,218.50 44.90,218.50 44.90,229.40 46.50,229.40 46.50,236.00 47.90,236.00 47.90,242.00 54.30,242.00 54.30,247.70 58.40,247.70 58.40,258.80 62.50,258.80 62.50,261.00 66.10,261.00 66.10,266.80 68.30,266.80 68.30,275.70 83.80,275.70 83.80,282.00 88.00,282.00 88.00,289.30 93.60,289.30 93.60,291.40 94.20,291.40 94.20,296.60 104.10,296.60 104.10,300.50 131.70,300.50 131.70,305.40 134.60,305.40 134.60,309.80 182.40,309.80" fill="none" stroke="#404040" stroke-width="1.0"/>
<polyline points="34.00,202.80 36.50,202.80 36.50,208.00 38.50,208.00 38.50,216.00 40.20,216.00 40.20,225.00 41.50,225.00 41.50,233.00 44.00,233.00 44.00,236.00 46.50,236.00 46.50,241.00 48.00,241.00 48.00,256.00 50.90,256.00 50.90,264.60 53.00,264.60 53.00,271.90 55.20,271.90 55.20,286.40 60.30,286.40 60.30,288.60 63.20,288.60 63.20,290.70 67.50,290.70 67.50,292.90 72.60,292.90 72.60,294.30 77.00,294.30 77.00,299.40 82.40,299.40 82.40,302.50 99.80,302.50 99.80,306.30 108.50,306.30 108.50,312.70 118.60,312.70 118.60,314.10 162.10,314.10" fill="none" stroke="#4a72d6" stroke-width="1.0"/>
<polyline points="34.00,202.80 37.00,202.80 37.00,211.30 38.90,211.30 38.90,219.70 40.70,219.70 40.70,227.00 42.50,227.00 42.50,233.60 44.50,233.60 44.50,238.00 46.50,238.00 46.50,241.40 47.20,241.40 47.20,253.00 50.90,253.00 50.90,263.90 54.50,263.90 54.50,270.40 58.10,270.40 58.10,279.10 62.50,279.10 62.50,283.50 66.10,283.50 66.10,290.70 71.50,290.70 71.50,294.30 72.40,294.30 72.40,300.50 76.60,300.50 76.60,304.00 82.40,304.00 82.40,309.80 102.70,309.80 102.70,311.20 104.10,311.20 104.10,315.60 111.20,315.60 111.20,323.50" fill="none" stroke="#2cc060" stroke-width="1.0"/>
<rect x="11.10" y="348.70" width="13.70" height="2.8" rx="1.2" fill="#050505"/>
<rect x="11.10" y="353.80" width="13.70" height="2.8" rx="1.2" fill="#12b044"/>
<rect x="11.10" y="358.70" width="13.70" height="2.8" rx="1.2" fill="#1f6fd2"/>
<text x="37.40" y="351.90" font-size="5.6" font-weight="bold" fill="#1c1c1c" text-anchor="end" textLength="6.30" lengthAdjust="spacingAndGlyphs" stroke="#1c1c1c" stroke-width="0.2">48</text>
<text x="62.30" y="351.90" font-size="5.6" font-weight="bold" fill="#1c1c1c" text-anchor="end" textLength="6.30" lengthAdjust="spacingAndGlyphs" stroke="#1c1c1c" stroke-width="0.2">26</text>
<text x="84.80" y="351.90" font-size="5.6" font-weight="bold" fill="#1c1c1c" text-anchor="end" textLength="6.30" lengthAdjust="spacingAndGlyphs" stroke="#1c1c1c" stroke-width="0.2">14</text>
<text x="105.80" y="351.90" font-size="5.6" font-weight="bold" fill="#1c1c1c" text-anchor="end" textLength="3.15" lengthAdjust="spacingAndGlyphs" stroke="#1c1c1c" stroke-width="0.2">8</text>
<text x="130.30" y="351.90" font-size="5.6" font-weight="bold" fill="#1c1c1c" text-anchor="end" textLength="3.15" lengthAdjust="spacingAndGlyphs" stroke="#1c1c1c" stroke-width="0.2">5</text>
<text x="152.00" y="351.90" font-size="5.6" font-weight="bold" fill="#1c1c1c" text-anchor="end" textLength="3.15" lengthAdjust="spacingAndGlyphs" stroke="#1c1c1c" stroke-width="0.2">1</text>
<text x="176.90" y="351.90" font-size="5.6" font-weight="bold" fill="#1c1c1c" text-anchor="end" textLength="3.15" lengthAdjust="spacingAndGlyphs" stroke="#1c1c1c" stroke-width="0.2">0</text>
<text x="199.90" y="351.90" font-size="5.6" font-weight="bold" fill="#1c1c1c" text-anchor="end" textLength="3.15" lengthAdjust="spacingAndGlyphs" stroke="#1c1c1c" stroke-width="0.2">0</text>
<text x="37.40" y="356.50" font-size="5.6" font-weight="bold" fill="#1c1c1c" text-anchor="end" textLength="6.30" lengthAdjust="spacingAndGlyphs" stroke="#1c1c1c" stroke-width="0.2">65</text>
<text x="62.30" y="356.50" font-size="5.6" font-weight="bold" fill="#1c1c1c" text-anchor="end" textLength="6.30" lengthAdjust="spacingAndGlyphs" stroke="#1c1c1c" stroke-width="0.2">27</text>
<text x="84.80" y="356.50" font-size="5.6" font-weight="bold" fill="#1c1c1c" text-anchor="end" textLength="3.15" lengthAdjust="spacingAndGlyphs" stroke="#1c1c1c" stroke-width="0.2">8</text>
<text x="105.80" y="356.50" font-size="5.6" font-weight="bold" fill="#1c1c1c" text-anchor="end" textLength="3.15" lengthAdjust="spacingAndGlyphs" stroke="#1c1c1c" stroke-width="0.2">5</text>
<text x="130.30" y="356.50" font-size="5.6" font-weight="bold" fill="#1c1c1c" text-anchor="end" textLength="3.15" lengthAdjust="spacingAndGlyphs" stroke="#1c1c1c" stroke-width="0.2">0</text>
<text x="152.00" y="356.50" font-size="5.6" font-weight="bold" fill="#1c1c1c" text-anchor="end" textLength="3.15" lengthAdjust="spacingAndGlyphs" stroke="#1c1c1c" stroke-width="0.2">0</text>
<text x="176.90" y="356.50" font-size="5.6" font-weight="bold" fill="#1c1c1c" text-anchor="end" textLength="3.15" lengthAdjust="spacingAndGlyphs" stroke="#1c1c1c" stroke-width="0.2">0</text>
<text x="199.90" y="356.50" font-size="5.6" font-weight="bold" fill="#1c1c1c" text-anchor="end" textLength="3.15" lengthAdjust="spacingAndGlyphs" stroke="#1c1c1c" stroke-width="0.2">0</text>
<text x="37.40" y="361.50" font-size="5.6" font-weight="bold" fill="#1c1c1c" text-anchor="end" textLength="6.30" lengthAdjust="spacingAndGlyphs" stroke="#1c1c1c" stroke-width="0.2">53</text>
<text x="62.30" y="361.50" font-size="5.6" font-weight="bold" fill="#1c1c1c" text-anchor="end" textLength="6.30" lengthAdjust="spacingAndGlyphs" stroke="#1c1c1c" stroke-width="0.2">15</text>
<text x="84.80" y="361.50" font-size="5.6" font-weight="bold" fill="#1c1c1c" text-anchor="end" textLength="3.15" lengthAdjust="spacingAndGlyphs" stroke="#1c1c1c" stroke-width="0.2">8</text>
<text x="105.80" y="361.50" font-size="5.6" font-weight="bold" fill="#1c1c1c" text-anchor="end" textLength="3.15" lengthAdjust="spacingAndGlyphs" stroke="#1c1c1c" stroke-width="0.2">5</text>
<text x="130.30" y="361.50" font-size="5.6" font-weight="bold" fill="#1c1c1c" text-anchor="end" textLength="3.15" lengthAdjust="spacingAndGlyphs" stroke="#1c1c1c" stroke-width="0.2">0</text>
<text x="152.00" y="361.50" font-size="5.6" font-weight="bold" fill="#1c1c1c" text-anchor="end" textLength="3.15" lengthAdjust="spacingAndGlyphs" stroke="#1c1c1c" stroke-width="0.2">0</text>
<text x="176.90" y="361.50" font-size="5.6" font-weight="bold" fill="#1c1c1c" text-anchor="end" textLength="3.15" lengthAdjust="spacingAndGlyphs" stroke="#1c1c1c" stroke-width="0.2">0</text>
<text x="199.90" y="361.50" font-size="5.6" font-weight="bold" fill="#1c1c1c" text-anchor="end" textLength="3.15" lengthAdjust="spacingAndGlyphs" stroke="#1c1c1c" stroke-width="0.2">0</text>
<text x="102.50" y="347.60" font-size="5.6" font-weight="bold" fill="#1c1c1c" text-anchor="start" textLength="17.80" lengthAdjust="spacingAndGlyphs" stroke="#1c1c1c" stroke-width="0.2">Months</text>
<rect x="234.90" y="196.00" width="174.60" height="135.60" fill="none" stroke="#777777" stroke-width="1.1"/>
<line x1="231.90" y1="325.80" x2="234.90" y2="325.80" stroke="#777777" stroke-width="0.9"/>
<text x="231.60" y="327.60" font-size="5.2" font-weight="bold" fill="#1c1c1c" text-anchor="end" textLength="5.40" lengthAdjust="spacingAndGlyphs" stroke="#1c1c1c" stroke-width="0.2">0.0</text>
<line x1="231.90" y1="301.20" x2="234.90" y2="301.20" stroke="#777777" stroke-width="0.9"/>
<text x="231.60" y="303.00" font-size="5.2" font-weight="bold" fill="#1c1c1c" text-anchor="end" textLength="5.40" lengthAdjust="spacingAndGlyphs" stroke="#1c1c1c" stroke-width="0.2">0.2</text>
<line x1="231.90" y1="276.60" x2="234.90" y2="276.60" stroke="#777777" stroke-width="0.9"/>
<text x="231.60" y="278.40" font-size="5.2" font-weight="bold" fill="#1c1c1c" text-anchor="end" textLength="5.40" lengthAdjust="spacingAndGlyphs" stroke="#1c1c1c" stroke-width="0.2">0.4</text>
<line x1="231.90" y1="252.00" x2="234.90" y2="252.00" stroke="#777777" stroke-width="0.9"/>
<text x="231.60" y="253.80" font-size="5.2" font-weight="bold" fill="#1c1c1c" text-anchor="end" textLength="5.40" lengthAdjust="spacingAndGlyphs" stroke="#1c1c1c" stroke-width="0.2">0.6</text>
<line x1="231.90" y1="227.40" x2="234.90" y2="227.40" stroke="#777777" stroke-width="0.9"/>
<text x="231.60" y="229.20" font-size="5.2" font-weight="bold" fill="#1c1c1c" text-anchor="end" textLength="5.40" lengthAdjust="spacingAndGlyphs" stroke="#1c1c1c" stroke-width="0.2">0.8</text>
<line x1="231.90" y1="202.80" x2="234.90" y2="202.80" stroke="#777777" stroke-width="0.9"/>
<text x="231.60" y="204.60" font-size="5.2" font-weight="bold" fill="#1c1c1c" text-anchor="end" textLength="5.40" lengthAdjust="spacingAndGlyphs" stroke="#1c1c1c" stroke-width="0.2">1.0</text>
<line x1="243.40" y1="331.60" x2="243.40" y2="334.60" stroke="#777777" stroke-width="0.9"/>
<text x="243.40" y="339.60" font-size="5.0" font-weight="bold" fill="#1c1c1c" text-anchor="middle" textLength="2.60" lengthAdjust="spacingAndGlyphs" stroke="#1c1c1c" stroke-width="0.2">0</text>
<line x1="270.33" y1="331.60" x2="270.33" y2="334.60" stroke="#777777" stroke-width="0.9"/>
<text x="270.33" y="339.60" font-size="5.0" font-weight="bold" fill="#1c1c1c" text-anchor="middle" textLength="5.20" lengthAdjust="spacingAndGlyphs" stroke="#1c1c1c" stroke-width="0.2">12</text>
<line x1="297.27" y1="331.60" x2="297.27" y2="334.60" stroke="#777777" stroke-width="0.9"/>
<text x="297.27" y="339.60" font-size="5.0" font-weight="bold" fill="#1c1c1c" text-anchor="middle" textLength="5.20" lengthAdjust="spacingAndGlyphs" stroke="#1c1c1c" stroke-width="0.2">24</text>
<line x1="324.20" y1="331.60" x2="324.20" y2="334.60" stroke="#777777" stroke-width="0.9"/>
<text x="324.20" y="339.60" font-size="5.0" font-weight="bold" fill="#1c1c1c" text-anchor="middle" textLength="5.20" lengthAdjust="spacingAndGlyphs" stroke="#1c1c1c" stroke-width="0.2">36</text>
<line x1="351.13" y1="331.60" x2="351.13" y2="334.60" stroke="#777777" stroke-width="0.9"/>
<text x="351.13" y="339.60" font-size="5.0" font-weight="bold" fill="#1c1c1c" text-anchor="middle" textLength="5.20" lengthAdjust="spacingAndGlyphs" stroke="#1c1c1c" stroke-width="0.2">48</text>
<line x1="378.07" y1="331.60" x2="378.07" y2="334.60" stroke="#777777" stroke-width="0.9"/>
<text x="378.07" y="339.60" font-size="5.0" font-weight="bold" fill="#1c1c1c" text-anchor="middle" textLength="5.20" lengthAdjust="spacingAndGlyphs" stroke="#1c1c1c" stroke-width="0.2">60</text>
<line x1="405.00" y1="331.60" x2="405.00" y2="334.60" stroke="#777777" stroke-width="0.9"/>
<text x="405.00" y="339.60" font-size="5.0" font-weight="bold" fill="#1c1c1c" text-anchor="middle" textLength="5.20" lengthAdjust="spacingAndGlyphs" stroke="#1c1c1c" stroke-width="0.2">72</text>
<text x="215.40" y="205.30" font-size="8.0" font-weight="bold" fill="#1c1c1c" text-anchor="start" textLength="10.10" lengthAdjust="spacingAndGlyphs" stroke="#1c1c1c" stroke-width="0.2">(D)</text>
<text x="0" y="0" font-size="5.0" font-weight="bold" fill="#1c1c1c" text-anchor="middle" textLength="37.80" lengthAdjust="spacingAndGlyphs" transform="translate(221.00,266.00) rotate(-90)">Overall Survival 2</text>
<text x="242.00" y="326.10" font-size="5.8" font-weight="bold" fill="#1c1c1c" text-anchor="start" textLength="17.80" lengthAdjust="spacingAndGlyphs" stroke="#1c1c1c" stroke-width="0.2">P=0.093</text>
<text x="352.20" y="205.90" font-size="5.8" font-weight="bold" fill="#1c1c1c" text-anchor="start" textLength="46.10" lengthAdjust="spacingAndGlyphs" stroke="#1c1c1c" stroke-width="0.2">Median OS2 (range)</text>
<line x1="327.60" y1="208.70" x2="403.70" y2="208.70" stroke="#444" stroke-width="0.9"/>
<text x="331.30" y="217.40" font-size="6.2" font-weight="bold" fill="#1c1c1c" text-anchor="start" textLength="23.90" lengthAdjust="spacingAndGlyphs" stroke="#1c1c1c" stroke-width="0.2">Bone only</text>
<text x="358.00" y="217.40" font-size="6.2" font-weight="bold" fill="#1c1c1c" text-anchor="start" textLength="9.40" lengthAdjust="spacingAndGlyphs" stroke="#1c1c1c" stroke-width="0.2">42.3</text>
<text x="371.70" y="217.40" font-size="6.2" font-weight="bold" fill="#1c1c1c" text-anchor="start" textLength="25.50" lengthAdjust="spacingAndGlyphs" stroke="#1c1c1c" stroke-width="0.2">(27.6, 50.6)</text>
<text x="331.30" y="224.30" font-size="6.2" font-weight="bold" fill="#0fb848" text-anchor="start" textLength="18.70" lengthAdjust="spacingAndGlyphs" stroke="#0fb848" stroke-width="0.2">Visceral</text>
<text x="358.00" y="224.30" font-size="6.2" font-weight="bold" fill="#1c1c1c" text-anchor="start" textLength="9.40" lengthAdjust="spacingAndGlyphs" stroke="#1c1c1c" stroke-width="0.2">28.3</text>
<text x="371.70" y="224.30" font-size="6.2" font-weight="bold" fill="#1c1c1c" text-anchor="start" textLength="25.50" lengthAdjust="spacingAndGlyphs" stroke="#1c1c1c" stroke-width="0.2">(21.7, 36.0)</text>
<text x="331.30" y="231.50" font-size="6.2" font-weight="bold" fill="#1f7fe6" text-anchor="start" textLength="15.80" lengthAdjust="spacingAndGlyphs" stroke="#1f7fe6" stroke-width="0.2">Others</text>
<text x="358.00" y="231.50" font-size="6.2" font-weight="bold" fill="#1c1c1c" text-anchor="start" textLength="9.40" lengthAdjust="spacingAndGlyphs" stroke="#1c1c1c" stroke-width="0.2">42.3</text>
<text x="371.70" y="231.50" font-size="6.2" font-weight="bold" fill="#1c1c1c" text-anchor="start" textLength="25.50" lengthAdjust="spacingAndGlyphs" stroke="#1c1c1c" stroke-width="0.2">(30.2, 54.4)</text>
<polyline points="243.80,203.10 252.50,203.10 252.50,206.00 258.30,206.00 258.30,208.90 263.40,208.90 263.40,211.00 277.10,211.00 277.10,214.70 280.50,214.70 280.50,220.60 295.20,220.60 295.20,223.00 298.00,223.00 298.00,225.90 299.40,225.90 299.40,229.50 300.90,229.50 300.90,233.80 312.50,233.80 312.50,241.80 324.10,241.80 324.10,256.00 339.00,256.00 339.00,278.30 342.40,278.30" fill="none" stroke="#404040" stroke-width="1.0"/>
<polyline points="243.80,203.10 254.00,203.10 254.00,208.10 259.70,208.10 259.70,209.60 264.10,209.60 264.10,212.50 274.50,212.50 274.50,222.60 277.10,222.60 277.10,230.60 281.50,230.60 281.50,232.00 285.80,232.00 285.80,236.40 289.40,236.40 289.40,239.60 292.90,239.60 292.90,242.50 309.60,242.50 309.60,247.60 312.50,247.60 312.50,253.40 324.00,253.40 324.00,262.00 331.40,262.00 331.40,275.00 371.70,275.00 371.70,298.90 381.50,298.90" fill="none" stroke="#4a72d6" stroke-width="1.0"/>
<polyline points="243.80,203.10 254.00,203.10 254.00,208.10 259.70,208.10 259.70,209.60 264.10,209.60 264.10,212.50 269.90,212.50 269.90,216.80 272.00,216.80 272.00,222.60 275.70,222.60 275.70,224.10 277.10,224.10 277.10,230.60 281.50,230.60 281.50,232.00 285.80,232.00 285.80,236.40 289.40,236.40 289.40,240.00 293.60,240.00 293.60,244.00 296.50,244.00 296.50,249.80 305.90,249.80 305.90,251.50 307.80,251.50 307.80,263.00 312.00,263.00 312.00,266.50 314.50,266.50 314.50,272.00 316.50,272.00 316.50,279.30 323.50,279.30 323.50,289.10 350.00,289.10" fill="none" stroke="#2cc060" stroke-width="1.0"/>
<rect x="219.90" y="348.30" width="13.30" height="2.8" rx="1.2" fill="#050505"/>
<rect x="219.90" y="354.00" width="13.30" height="2.8" rx="1.2" fill="#12b044"/>
<rect x="219.90" y="358.70" width="13.30" height="2.8" rx="1.2" fill="#1f6fd2"/>
<text x="245.00" y="352.20" font-size="5.6" font-weight="bold" fill="#1c1c1c" text-anchor="end" textLength="6.30" lengthAdjust="spacingAndGlyphs" stroke="#1c1c1c" stroke-width="0.2">48</text>
<text x="274.90" y="352.20" font-size="5.6" font-weight="bold" fill="#1c1c1c" text-anchor="end" textLength="6.30" lengthAdjust="spacingAndGlyphs" stroke="#1c1c1c" stroke-width="0.2">37</text>
<text x="300.70" y="352.20" font-size="5.6" font-weight="bold" fill="#1c1c1c" text-anchor="end" textLength="6.30" lengthAdjust="spacingAndGlyphs" stroke="#1c1c1c" stroke-width="0.2">23</text>
<text x="324.90" y="352.20" font-size="5.6" font-weight="bold" fill="#1c1c1c" text-anchor="end" textLength="3.15" lengthAdjust="spacingAndGlyphs" stroke="#1c1c1c" stroke-width="0.2">5</text>
<text x="353.30" y="352.20" font-size="5.6" font-weight="bold" fill="#1c1c1c" text-anchor="end" textLength="3.15" lengthAdjust="spacingAndGlyphs" stroke="#1c1c1c" stroke-width="0.2">0</text>
<text x="379.90" y="352.20" font-size="5.6" font-weight="bold" fill="#1c1c1c" text-anchor="end" textLength="3.15" lengthAdjust="spacingAndGlyphs" stroke="#1c1c1c" stroke-width="0.2">0</text>
<text x="406.50" y="352.20" font-size="5.6" font-weight="bold" fill="#1c1c1c" text-anchor="end" textLength="3.15" lengthAdjust="spacingAndGlyphs" stroke="#1c1c1c" stroke-width="0.2">0</text>
<text x="245.00" y="357.00" font-size="5.6" font-weight="bold" fill="#1c1c1c" text-anchor="end" textLength="6.30" lengthAdjust="spacingAndGlyphs" stroke="#1c1c1c" stroke-width="0.2">65</text>
<text x="274.90" y="357.00" font-size="5.6" font-weight="bold" fill="#1c1c1c" text-anchor="end" textLength="6.30" lengthAdjust="spacingAndGlyphs" stroke="#1c1c1c" stroke-width="0.2">49</text>
<text x="300.70" y="357.00" font-size="5.6" font-weight="bold" fill="#1c1c1c" text-anchor="end" textLength="6.30" lengthAdjust="spacingAndGlyphs" stroke="#1c1c1c" stroke-width="0.2">24</text>
<text x="324.90" y="357.00" font-size="5.6" font-weight="bold" fill="#1c1c1c" text-anchor="end" textLength="3.15" lengthAdjust="spacingAndGlyphs" stroke="#1c1c1c" stroke-width="0.2">6</text>
<text x="353.30" y="357.00" font-size="5.6" font-weight="bold" fill="#1c1c1c" text-anchor="end" textLength="3.15" lengthAdjust="spacingAndGlyphs" stroke="#1c1c1c" stroke-width="0.2">0</text>
<text x="379.90" y="357.00" font-size="5.6" font-weight="bold" fill="#1c1c1c" text-anchor="end" textLength="3.15" lengthAdjust="spacingAndGlyphs" stroke="#1c1c1c" stroke-width="0.2">0</text>
<text x="406.50" y="357.00" font-size="5.6" font-weight="bold" fill="#1c1c1c" text-anchor="end" textLength="3.15" lengthAdjust="spacingAndGlyphs" stroke="#1c1c1c" stroke-width="0.2">0</text>
<text x="245.00" y="361.60" font-size="5.6" font-weight="bold" fill="#1c1c1c" text-anchor="end" textLength="6.30" lengthAdjust="spacingAndGlyphs" stroke="#1c1c1c" stroke-width="0.2">53</text>
<text x="274.90" y="361.60" font-size="5.6" font-weight="bold" fill="#1c1c1c" text-anchor="end" textLength="6.30" lengthAdjust="spacingAndGlyphs" stroke="#1c1c1c" stroke-width="0.2">42</text>
<text x="300.70" y="361.60" font-size="5.6" font-weight="bold" fill="#1c1c1c" text-anchor="end" textLength="6.30" lengthAdjust="spacingAndGlyphs" stroke="#1c1c1c" stroke-width="0.2">22</text>
<text x="324.90" y="361.60" font-size="5.6" font-weight="bold" fill="#1c1c1c" text-anchor="end" textLength="3.15" lengthAdjust="spacingAndGlyphs" stroke="#1c1c1c" stroke-width="0.2">6</text>
<text x="353.30" y="361.60" font-size="5.6" font-weight="bold" fill="#1c1c1c" text-anchor="end" textLength="3.15" lengthAdjust="spacingAndGlyphs" stroke="#1c1c1c" stroke-width="0.2">2</text>
<text x="379.90" y="361.60" font-size="5.6" font-weight="bold" fill="#1c1c1c" text-anchor="end" textLength="3.15" lengthAdjust="spacingAndGlyphs" stroke="#1c1c1c" stroke-width="0.2">1</text>
<text x="406.50" y="361.60" font-size="5.6" font-weight="bold" fill="#1c1c1c" text-anchor="end" textLength="3.15" lengthAdjust="spacingAndGlyphs" stroke="#1c1c1c" stroke-width="0.2">0</text>
<text x="313.50" y="348.10" font-size="5.6" font-weight="bold" fill="#1c1c1c" text-anchor="start" textLength="17.50" lengthAdjust="spacingAndGlyphs" stroke="#1c1c1c" stroke-width="0.2">Months</text>
<rect x="25.00" y="381.60" width="175.00" height="137.40" fill="none" stroke="#777777" stroke-width="1.1"/>
<line x1="22.00" y1="512.50" x2="25.00" y2="512.50" stroke="#777777" stroke-width="0.9"/>
<text x="21.70" y="514.30" font-size="5.2" font-weight="bold" fill="#1c1c1c" text-anchor="end" textLength="5.40" lengthAdjust="spacingAndGlyphs" stroke="#1c1c1c" stroke-width="0.2">0.0</text>
<line x1="22.00" y1="487.72" x2="25.00" y2="487.72" stroke="#777777" stroke-width="0.9"/>
<text x="21.70" y="489.52" font-size="5.2" font-weight="bold" fill="#1c1c1c" text-anchor="end" textLength="5.40" lengthAdjust="spacingAndGlyphs" stroke="#1c1c1c" stroke-width="0.2">0.2</text>
<line x1="22.00" y1="462.94" x2="25.00" y2="462.94" stroke="#777777" stroke-width="0.9"/>
<text x="21.70" y="464.74" font-size="5.2" font-weight="bold" fill="#1c1c1c" text-anchor="end" textLength="5.40" lengthAdjust="spacingAndGlyphs" stroke="#1c1c1c" stroke-width="0.2">0.4</text>
<line x1="22.00" y1="438.16" x2="25.00" y2="438.16" stroke="#777777" stroke-width="0.9"/>
<text x="21.70" y="439.96" font-size="5.2" font-weight="bold" fill="#1c1c1c" text-anchor="end" textLength="5.40" lengthAdjust="spacingAndGlyphs" stroke="#1c1c1c" stroke-width="0.2">0.6</text>
<line x1="22.00" y1="413.38" x2="25.00" y2="413.38" stroke="#777777" stroke-width="0.9"/>
<text x="21.70" y="415.18" font-size="5.2" font-weight="bold" fill="#1c1c1c" text-anchor="end" textLength="5.40" lengthAdjust="spacingAndGlyphs" stroke="#1c1c1c" stroke-width="0.2">0.8</text>
<line x1="22.00" y1="388.60" x2="25.00" y2="388.60" stroke="#777777" stroke-width="0.9"/>
<text x="21.70" y="390.40" font-size="5.2" font-weight="bold" fill="#1c1c1c" text-anchor="end" textLength="5.40" lengthAdjust="spacingAndGlyphs" stroke="#1c1c1c" stroke-width="0.2">1.0</text>
<line x1="33.60" y1="519.00" x2="33.60" y2="522.00" stroke="#777777" stroke-width="0.9"/>
<text x="33.60" y="527.00" font-size="5.0" font-weight="bold" fill="#1c1c1c" text-anchor="middle" textLength="2.60" lengthAdjust="spacingAndGlyphs" stroke="#1c1c1c" stroke-width="0.2">0</text>
<line x1="57.27" y1="519.00" x2="57.27" y2="522.00" stroke="#777777" stroke-width="0.9"/>
<text x="57.27" y="527.00" font-size="5.0" font-weight="bold" fill="#1c1c1c" text-anchor="middle" textLength="2.60" lengthAdjust="spacingAndGlyphs" stroke="#1c1c1c" stroke-width="0.2">6</text>
<line x1="80.94" y1="519.00" x2="80.94" y2="522.00" stroke="#777777" stroke-width="0.9"/>
<text x="80.94" y="527.00" font-size="5.0" font-weight="bold" fill="#1c1c1c" text-anchor="middle" textLength="5.20" lengthAdjust="spacingAndGlyphs" stroke="#1c1c1c" stroke-width="0.2">12</text>
<line x1="104.61" y1="519.00" x2="104.61" y2="522.00" stroke="#777777" stroke-width="0.9"/>
<text x="104.61" y="527.00" font-size="5.0" font-weight="bold" fill="#1c1c1c" text-anchor="middle" textLength="5.20" lengthAdjust="spacingAndGlyphs" stroke="#1c1c1c" stroke-width="0.2">18</text>
<line x1="128.29" y1="519.00" x2="128.29" y2="522.00" stroke="#777777" stroke-width="0.9"/>
<text x="128.29" y="527.00" font-size="5.0" font-weight="bold" fill="#1c1c1c" text-anchor="middle" textLength="5.20" lengthAdjust="spacingAndGlyphs" stroke="#1c1c1c" stroke-width="0.2">24</text>
<line x1="151.96" y1="519.00" x2="151.96" y2="522.00" stroke="#777777" stroke-width="0.9"/>
<text x="151.96" y="527.00" font-size="5.0" font-weight="bold" fill="#1c1c1c" text-anchor="middle" textLength="5.20" lengthAdjust="spacingAndGlyphs" stroke="#1c1c1c" stroke-width="0.2">30</text>
<line x1="175.63" y1="519.00" x2="175.63" y2="522.00" stroke="#777777" stroke-width="0.9"/>
<text x="175.63" y="527.00" font-size="5.0" font-weight="bold" fill="#1c1c1c" text-anchor="middle" textLength="5.20" lengthAdjust="spacingAndGlyphs" stroke="#1c1c1c" stroke-width="0.2">36</text>
<line x1="199.30" y1="519.00" x2="199.30" y2="522.00" stroke="#777777" stroke-width="0.9"/>
<text x="199.30" y="527.00" font-size="5.0" font-weight="bold" fill="#1c1c1c" text-anchor="middle" textLength="5.20" lengthAdjust="spacingAndGlyphs" stroke="#1c1c1c" stroke-width="0.2">42</text>
<text x="6.50" y="390.90" font-size="8.0" font-weight="bold" fill="#1c1c1c" text-anchor="start" textLength="8.40" lengthAdjust="spacingAndGlyphs" stroke="#1c1c1c" stroke-width="0.2">(E)</text>
<text x="0" y="0" font-size="5.0" font-weight="bold" fill="#1c1c1c" text-anchor="middle" textLength="62.70" lengthAdjust="spacingAndGlyphs" transform="translate(11.80,453.00) rotate(-90)">Progression Free Survival 2</text>
<text x="32.60" y="512.90" font-size="5.8" font-weight="bold" fill="#1c1c1c" text-anchor="start" textLength="18.40" lengthAdjust="spacingAndGlyphs" stroke="#1c1c1c" stroke-width="0.2">P=0.045</text>
<text x="143.70" y="390.90" font-size="5.8" font-weight="bold" fill="#1c1c1c" text-anchor="start" textLength="50.00" lengthAdjust="spacingAndGlyphs" stroke="#1c1c1c" stroke-width="0.2">Median PFS2 (range)</text>
<line x1="122.00" y1="393.50" x2="195.90" y2="393.50" stroke="#444" stroke-width="0.9"/>
<text x="126.30" y="402.20" font-size="6.2" font-weight="bold" fill="#1c1c1c" text-anchor="start" textLength="21.10" lengthAdjust="spacingAndGlyphs" stroke="#1c1c1c" stroke-width="0.2">ER resist</text>
<text x="153.50" y="402.20" font-size="6.2" font-weight="bold" fill="#1c1c1c" text-anchor="start" textLength="8.70" lengthAdjust="spacingAndGlyphs" stroke="#1c1c1c" stroke-width="0.2">4.83</text>
<text x="166.10" y="402.20" font-size="6.2" font-weight="bold" fill="#1c1c1c" text-anchor="start" textLength="25.40" lengthAdjust="spacingAndGlyphs" stroke="#1c1c1c" stroke-width="0.2">(3.21, 6.52)</text>
<text x="126.30" y="409.30" font-size="6.2" font-weight="bold" fill="#0fb848" text-anchor="start" textLength="23.30" lengthAdjust="spacingAndGlyphs" stroke="#0fb848" stroke-width="0.2">ER driven</text>
<text x="153.50" y="409.30" font-size="6.2" font-weight="bold" fill="#1c1c1c" text-anchor="start" textLength="8.70" lengthAdjust="spacingAndGlyphs" stroke="#1c1c1c" stroke-width="0.2">5.53</text>
<text x="166.10" y="409.30" font-size="6.2" font-weight="bold" fill="#1c1c1c" text-anchor="start" textLength="25.40" lengthAdjust="spacingAndGlyphs" stroke="#1c1c1c" stroke-width="0.2">(4.10, 6.97)</text>
<polyline points="34.10,388.50 36.70,388.50 36.70,396.50 38.30,396.50 38.30,400.00 39.50,400.00 39.50,410.20 42.70,410.20 42.70,417.80 44.60,417.80 44.60,429.30 47.20,429.30 47.20,434.40 47.80,434.40 47.80,439.40 50.40,439.40 50.40,443.30 52.30,443.30 52.30,449.60 54.80,449.60 54.80,457.30 58.00,457.30 58.00,463.60 61.80,463.60 61.80,468.70 64.30,468.70 64.30,475.30 68.70,475.30 68.70,480.40 71.60,480.40 71.60,484.70 73.80,484.70 73.80,489.80 80.30,489.80 80.30,491.20 83.90,491.20 83.90,494.90 91.20,494.90 91.20,497.80 99.10,497.80 99.10,498.50 102.00,498.50 102.00,501.40 106.40,501.40 106.40,504.30 112.20,504.30 112.20,505.70 118.00,505.70 118.00,506.40 120.00,506.40 120.00,507.90 162.80,507.90" fill="none" stroke="#404040" stroke-width="1.0"/>
<polyline points="34.10,388.50 36.00,388.50 36.00,392.10 38.90,392.10 38.90,397.20 40.20,397.20 40.20,401.60 41.50,401.60 41.50,411.50 45.30,411.50 45.30,414.00 47.20,414.00 47.20,421.60 48.40,421.60 48.40,430.50 49.10,430.50 49.10,436.90 52.90,436.90 52.90,443.30 55.40,443.30 55.40,449.60 58.00,449.60 58.00,456.00 60.50,456.00 60.50,462.30 65.80,462.30 65.80,465.90 70.10,465.90 70.10,468.80 74.50,468.80 74.50,470.20 78.10,470.20 78.10,475.30 83.20,475.30 83.20,476.00 85.40,476.00 85.40,478.90 89.00,478.90 89.00,481.80 94.80,481.80 94.80,485.40 104.90,485.40 104.90,486.20 106.40,486.20 106.40,488.30 110.00,488.30 110.00,491.20 133.50,491.20 133.50,497.70 183.00,497.70" fill="none" stroke="#2cc060" stroke-width="1.0"/>
<rect x="13.10" y="536.80" width="13.70" height="2.8" rx="1.2" fill="#050505"/>
<rect x="13.10" y="541.70" width="13.70" height="2.8" rx="1.2" fill="#12b044"/>
<text x="35.50" y="540.10" font-size="5.6" font-weight="bold" fill="#1c1c1c" text-anchor="end" textLength="6.30" lengthAdjust="spacingAndGlyphs" stroke="#1c1c1c" stroke-width="0.2">66</text>
<text x="59.40" y="540.10" font-size="5.6" font-weight="bold" fill="#1c1c1c" text-anchor="end" textLength="6.30" lengthAdjust="spacingAndGlyphs" stroke="#1c1c1c" stroke-width="0.2">25</text>
<text x="83.20" y="540.10" font-size="5.6" font-weight="bold" fill="#1c1c1c" text-anchor="end" textLength="6.30" lengthAdjust="spacingAndGlyphs" stroke="#1c1c1c" stroke-width="0.2">11</text>
<text x="105.00" y="540.10" font-size="5.6" font-weight="bold" fill="#1c1c1c" text-anchor="end" textLength="3.15" lengthAdjust="spacingAndGlyphs" stroke="#1c1c1c" stroke-width="0.2">5</text>
<text x="129.40" y="540.10" font-size="5.6" font-weight="bold" fill="#1c1c1c" text-anchor="end" textLength="3.15" lengthAdjust="spacingAndGlyphs" stroke="#1c1c1c" stroke-width="0.2">2</text>
<text x="152.70" y="540.10" font-size="5.6" font-weight="bold" fill="#1c1c1c" text-anchor="end" textLength="3.15" lengthAdjust="spacingAndGlyphs" stroke="#1c1c1c" stroke-width="0.2">1</text>
<text x="177.90" y="540.10" font-size="5.6" font-weight="bold" fill="#1c1c1c" text-anchor="end" textLength="3.15" lengthAdjust="spacingAndGlyphs" stroke="#1c1c1c" stroke-width="0.2">0</text>
<text x="201.00" y="540.10" font-size="5.6" font-weight="bold" fill="#1c1c1c" text-anchor="end" textLength="3.15" lengthAdjust="spacingAndGlyphs" stroke="#1c1c1c" stroke-width="0.2">0</text>
<text x="35.50" y="544.90" font-size="5.6" font-weight="bold" fill="#1c1c1c" text-anchor="end" textLength="6.30" lengthAdjust="spacingAndGlyphs" stroke="#1c1c1c" stroke-width="0.2">98</text>
<text x="59.40" y="544.90" font-size="5.6" font-weight="bold" fill="#1c1c1c" text-anchor="end" textLength="6.30" lengthAdjust="spacingAndGlyphs" stroke="#1c1c1c" stroke-width="0.2">42</text>
<text x="83.20" y="544.90" font-size="5.6" font-weight="bold" fill="#1c1c1c" text-anchor="end" textLength="6.30" lengthAdjust="spacingAndGlyphs" stroke="#1c1c1c" stroke-width="0.2">18</text>
<text x="105.00" y="544.90" font-size="5.6" font-weight="bold" fill="#1c1c1c" text-anchor="end" textLength="6.30" lengthAdjust="spacingAndGlyphs" stroke="#1c1c1c" stroke-width="0.2">10</text>
<text x="129.40" y="544.90" font-size="5.6" font-weight="bold" fill="#1c1c1c" text-anchor="end" textLength="3.15" lengthAdjust="spacingAndGlyphs" stroke="#1c1c1c" stroke-width="0.2">6</text>
<text x="152.70" y="544.90" font-size="5.6" font-weight="bold" fill="#1c1c1c" text-anchor="end" textLength="3.15" lengthAdjust="spacingAndGlyphs" stroke="#1c1c1c" stroke-width="0.2">1</text>
<text x="177.90" y="544.90" font-size="5.6" font-weight="bold" fill="#1c1c1c" text-anchor="end" textLength="3.15" lengthAdjust="spacingAndGlyphs" stroke="#1c1c1c" stroke-width="0.2">0</text>
<text x="201.00" y="544.90" font-size="5.6" font-weight="bold" fill="#1c1c1c" text-anchor="end" textLength="3.15" lengthAdjust="spacingAndGlyphs" stroke="#1c1c1c" stroke-width="0.2">0</text>
<text x="103.50" y="535.30" font-size="5.6" font-weight="bold" fill="#1c1c1c" text-anchor="start" textLength="18.10" lengthAdjust="spacingAndGlyphs" stroke="#1c1c1c" stroke-width="0.2">Months</text>
<rect x="235.10" y="381.60" width="175.10" height="135.40" fill="none" stroke="#777777" stroke-width="1.1"/>
<line x1="232.10" y1="511.00" x2="235.10" y2="511.00" stroke="#777777" stroke-width="0.9"/>
<text x="231.80" y="512.80" font-size="5.2" font-weight="bold" fill="#1c1c1c" text-anchor="end" textLength="5.40" lengthAdjust="spacingAndGlyphs" stroke="#1c1c1c" stroke-width="0.2">0.0</text>
<line x1="232.10" y1="486.52" x2="235.10" y2="486.52" stroke="#777777" stroke-width="0.9"/>
<text x="231.80" y="488.32" font-size="5.2" font-weight="bold" fill="#1c1c1c" text-anchor="end" textLength="5.40" lengthAdjust="spacingAndGlyphs" stroke="#1c1c1c" stroke-width="0.2">0.2</text>
<line x1="232.10" y1="462.04" x2="235.10" y2="462.04" stroke="#777777" stroke-width="0.9"/>
<text x="231.80" y="463.84" font-size="5.2" font-weight="bold" fill="#1c1c1c" text-anchor="end" textLength="5.40" lengthAdjust="spacingAndGlyphs" stroke="#1c1c1c" stroke-width="0.2">0.4</text>
<line x1="232.10" y1="437.56" x2="235.10" y2="437.56" stroke="#777777" stroke-width="0.9"/>
<text x="231.80" y="439.36" font-size="5.2" font-weight="bold" fill="#1c1c1c" text-anchor="end" textLength="5.40" lengthAdjust="spacingAndGlyphs" stroke="#1c1c1c" stroke-width="0.2">0.6</text>
<line x1="232.10" y1="413.08" x2="235.10" y2="413.08" stroke="#777777" stroke-width="0.9"/>
<text x="231.80" y="414.88" font-size="5.2" font-weight="bold" fill="#1c1c1c" text-anchor="end" textLength="5.40" lengthAdjust="spacingAndGlyphs" stroke="#1c1c1c" stroke-width="0.2">0.8</text>
<line x1="232.10" y1="388.60" x2="235.10" y2="388.60" stroke="#777777" stroke-width="0.9"/>
<text x="231.80" y="390.40" font-size="5.2" font-weight="bold" fill="#1c1c1c" text-anchor="end" textLength="5.40" lengthAdjust="spacingAndGlyphs" stroke="#1c1c1c" stroke-width="0.2">1.0</text>
<line x1="243.80" y1="517.00" x2="243.80" y2="520.00" stroke="#777777" stroke-width="0.9"/>
<text x="243.80" y="525.00" font-size="5.0" font-weight="bold" fill="#1c1c1c" text-anchor="middle" textLength="2.60" lengthAdjust="spacingAndGlyphs" stroke="#1c1c1c" stroke-width="0.2">0</text>
<line x1="270.73" y1="517.00" x2="270.73" y2="520.00" stroke="#777777" stroke-width="0.9"/>
<text x="270.73" y="525.00" font-size="5.0" font-weight="bold" fill="#1c1c1c" text-anchor="middle" textLength="5.20" lengthAdjust="spacingAndGlyphs" stroke="#1c1c1c" stroke-width="0.2">12</text>
<line x1="297.67" y1="517.00" x2="297.67" y2="520.00" stroke="#777777" stroke-width="0.9"/>
<text x="297.67" y="525.00" font-size="5.0" font-weight="bold" fill="#1c1c1c" text-anchor="middle" textLength="5.20" lengthAdjust="spacingAndGlyphs" stroke="#1c1c1c" stroke-width="0.2">24</text>
<line x1="324.60" y1="517.00" x2="324.60" y2="520.00" stroke="#777777" stroke-width="0.9"/>
<text x="324.60" y="525.00" font-size="5.0" font-weight="bold" fill="#1c1c1c" text-anchor="middle" textLength="5.20" lengthAdjust="spacingAndGlyphs" stroke="#1c1c1c" stroke-width="0.2">36</text>
<line x1="351.53" y1="517.00" x2="351.53" y2="520.00" stroke="#777777" stroke-width="0.9"/>
<text x="351.53" y="525.00" font-size="5.0" font-weight="bold" fill="#1c1c1c" text-anchor="middle" textLength="5.20" lengthAdjust="spacingAndGlyphs" stroke="#1c1c1c" stroke-width="0.2">48</text>
<line x1="378.47" y1="517.00" x2="378.47" y2="520.00" stroke="#777777" stroke-width="0.9"/>
<text x="378.47" y="525.00" font-size="5.0" font-weight="bold" fill="#1c1c1c" text-anchor="middle" textLength="5.20" lengthAdjust="spacingAndGlyphs" stroke="#1c1c1c" stroke-width="0.2">60</text>
<line x1="405.40" y1="517.00" x2="405.40" y2="520.00" stroke="#777777" stroke-width="0.9"/>
<text x="405.40" y="525.00" font-size="5.0" font-weight="bold" fill="#1c1c1c" text-anchor="middle" textLength="5.20" lengthAdjust="spacingAndGlyphs" stroke="#1c1c1c" stroke-width="0.2">72</text>
<text x="216.30" y="390.90" font-size="8.0" font-weight="bold" fill="#1c1c1c" text-anchor="start" textLength="7.80" lengthAdjust="spacingAndGlyphs" stroke="#1c1c1c" stroke-width="0.2">(F)</text>
<text x="0" y="0" font-size="5.0" font-weight="bold" fill="#1c1c1c" text-anchor="middle" textLength="39.70" lengthAdjust="spacingAndGlyphs" transform="translate(222.00,449.80) rotate(-90)">Overall Survival 2</text>
<text x="242.10" y="510.80" font-size="5.8" font-weight="bold" fill="#1c1c1c" text-anchor="start" textLength="17.70" lengthAdjust="spacingAndGlyphs" stroke="#1c1c1c" stroke-width="0.2">P=0.030</text>
<text x="351.50" y="390.40" font-size="5.8" font-weight="bold" fill="#1c1c1c" text-anchor="start" textLength="45.70" lengthAdjust="spacingAndGlyphs" stroke="#1c1c1c" stroke-width="0.2">Median OS2 (range)</text>
<line x1="329.80" y1="393.00" x2="404.80" y2="393.00" stroke="#444" stroke-width="0.9"/>
<text x="333.50" y="401.70" font-size="6.2" font-weight="bold" fill="#1c1c1c" text-anchor="start" textLength="20.80" lengthAdjust="spacingAndGlyphs" stroke="#1c1c1c" stroke-width="0.2">ER resist</text>
<text x="360.20" y="401.70" font-size="6.2" font-weight="bold" fill="#1c1c1c" text-anchor="start" textLength="9.80" lengthAdjust="spacingAndGlyphs" stroke="#1c1c1c" stroke-width="0.2">31.3</text>
<text x="372.80" y="401.70" font-size="6.2" font-weight="bold" fill="#1c1c1c" text-anchor="start" textLength="25.50" lengthAdjust="spacingAndGlyphs" stroke="#1c1c1c" stroke-width="0.2">(21.7, 34.9)</text>
<text x="333.50" y="408.30" font-size="6.2" font-weight="bold" fill="#0fb848" text-anchor="start" textLength="23.50" lengthAdjust="spacingAndGlyphs" stroke="#0fb848" stroke-width="0.2">ER driven</text>
<text x="360.20" y="408.30" font-size="6.2" font-weight="bold" fill="#1c1c1c" text-anchor="start" textLength="9.80" lengthAdjust="spacingAndGlyphs" stroke="#1c1c1c" stroke-width="0.2">35.7</text>
<text x="372.80" y="408.30" font-size="6.2" font-weight="bold" fill="#1c1c1c" text-anchor="start" textLength="24.00" lengthAdjust="spacingAndGlyphs" stroke="#1c1c1c" stroke-width="0.2">( -  ,  - )</text>
<polyline points="244.20,388.80 251.00,388.80 251.00,394.70 255.00,394.70 255.00,395.40 257.40,395.40 257.40,396.60 261.00,396.60 261.00,400.30 264.70,400.30 264.70,404.50 269.50,404.50 269.50,405.70 271.30,405.70 271.30,409.90 276.10,409.90 276.10,412.30 277.90,412.30 277.90,416.00 281.00,416.00 281.00,422.60 284.00,422.60 284.00,425.60 287.60,425.60 287.60,426.80 288.80,426.80 288.80,431.10 293.60,431.10 293.60,431.70 296.10,431.70 296.10,435.90 298.80,435.90 298.80,437.30 302.60,437.30 302.60,438.50 307.10,438.50 307.10,439.20 309.00,439.20 309.00,442.40 310.90,442.40 310.90,445.50 313.40,445.50 313.40,448.70 316.00,448.70 316.00,453.20 316.60,453.20 316.60,457.00 323.60,457.00 323.60,457.60 324.30,457.60 324.30,465.30 331.90,465.30 331.90,465.90 332.50,465.90 332.50,471.00 339.50,471.00 339.50,471.60 340.20,471.60 340.20,479.00 371.70,479.00 371.70,495.00 381.50,495.00" fill="none" stroke="#404040" stroke-width="1.0"/>
<polyline points="244.20,388.80 253.50,388.80 256.10,388.80 256.10,391.20 262.20,391.20 264.70,391.20 264.70,392.40 270.70,392.40 274.30,392.40 274.30,397.20 277.90,397.20 277.90,403.30 281.60,403.30 281.60,405.70 287.60,405.70 287.60,406.30 290.00,406.30 290.00,409.90 293.60,409.90 293.60,410.50 297.30,410.50 297.30,416.00 302.10,416.00 302.10,419.00 302.70,419.00 302.70,421.40 307.10,421.40 307.70,421.40 307.70,430.90 312.80,430.90 312.80,431.50 313.40,431.50 313.40,435.40 322.40,435.40 322.40,436.00 323.00,436.00 323.00,443.60 324.90,443.60 324.90,450.60 342.10,450.60" fill="none" stroke="#2cc060" stroke-width="1.0"/>
<rect x="217.50" y="534.50" width="13.30" height="2.8" rx="1.2" fill="#050505"/>
<rect x="217.50" y="539.40" width="13.30" height="2.8" rx="1.2" fill="#12b044"/>
<text x="239.20" y="537.70" font-size="5.6" font-weight="bold" fill="#1c1c1c" text-anchor="end" textLength="6.30" lengthAdjust="spacingAndGlyphs" stroke="#1c1c1c" stroke-width="0.2">66</text>
<text x="262.70" y="537.70" font-size="5.6" font-weight="bold" fill="#1c1c1c" text-anchor="end" textLength="6.30" lengthAdjust="spacingAndGlyphs" stroke="#1c1c1c" stroke-width="0.2">55</text>
<text x="288.10" y="537.70" font-size="5.6" font-weight="bold" fill="#1c1c1c" text-anchor="end" textLength="6.30" lengthAdjust="spacingAndGlyphs" stroke="#1c1c1c" stroke-width="0.2">38</text>
<text x="308.90" y="537.70" font-size="5.6" font-weight="bold" fill="#1c1c1c" text-anchor="end" textLength="3.15" lengthAdjust="spacingAndGlyphs" stroke="#1c1c1c" stroke-width="0.2">9</text>
<text x="332.50" y="537.70" font-size="5.6" font-weight="bold" fill="#1c1c1c" text-anchor="end" textLength="3.15" lengthAdjust="spacingAndGlyphs" stroke="#1c1c1c" stroke-width="0.2">2</text>
<text x="355.20" y="537.70" font-size="5.6" font-weight="bold" fill="#1c1c1c" text-anchor="end" textLength="3.15" lengthAdjust="spacingAndGlyphs" stroke="#1c1c1c" stroke-width="0.2">1</text>
<text x="380.00" y="537.70" font-size="5.6" font-weight="bold" fill="#1c1c1c" text-anchor="end" textLength="3.15" lengthAdjust="spacingAndGlyphs" stroke="#1c1c1c" stroke-width="0.2">0</text>
<text x="404.90" y="537.70" font-size="5.6" font-weight="bold" fill="#1c1c1c" text-anchor="end" textLength="3.15" lengthAdjust="spacingAndGlyphs" stroke="#1c1c1c" stroke-width="0.2">0</text>
<text x="239.20" y="542.70" font-size="5.6" font-weight="bold" fill="#1c1c1c" text-anchor="end" textLength="6.30" lengthAdjust="spacingAndGlyphs" stroke="#1c1c1c" stroke-width="0.2">98</text>
<text x="262.70" y="542.70" font-size="5.6" font-weight="bold" fill="#1c1c1c" text-anchor="end" textLength="6.30" lengthAdjust="spacingAndGlyphs" stroke="#1c1c1c" stroke-width="0.2">73</text>
<text x="288.10" y="542.70" font-size="5.6" font-weight="bold" fill="#1c1c1c" text-anchor="end" textLength="6.30" lengthAdjust="spacingAndGlyphs" stroke="#1c1c1c" stroke-width="0.2">31</text>
<text x="308.90" y="542.70" font-size="5.6" font-weight="bold" fill="#1c1c1c" text-anchor="end" textLength="3.15" lengthAdjust="spacingAndGlyphs" stroke="#1c1c1c" stroke-width="0.2">8</text>
<text x="332.50" y="542.70" font-size="5.6" font-weight="bold" fill="#1c1c1c" text-anchor="end" textLength="3.15" lengthAdjust="spacingAndGlyphs" stroke="#1c1c1c" stroke-width="0.2">0</text>
<text x="355.20" y="542.70" font-size="5.6" font-weight="bold" fill="#1c1c1c" text-anchor="end" textLength="3.15" lengthAdjust="spacingAndGlyphs" stroke="#1c1c1c" stroke-width="0.2">0</text>
<text x="380.00" y="542.70" font-size="5.6" font-weight="bold" fill="#1c1c1c" text-anchor="end" textLength="3.15" lengthAdjust="spacingAndGlyphs" stroke="#1c1c1c" stroke-width="0.2">0</text>
<text x="404.90" y="542.70" font-size="5.6" font-weight="bold" fill="#1c1c1c" text-anchor="end" textLength="3.15" lengthAdjust="spacingAndGlyphs" stroke="#1c1c1c" stroke-width="0.2">0</text>
<text x="313.90" y="533.20" font-size="5.6" font-weight="bold" fill="#1c1c1c" text-anchor="start" textLength="17.30" lengthAdjust="spacingAndGlyphs" stroke="#1c1c1c" stroke-width="0.2">Months</text>
</svg>
</body></html>
